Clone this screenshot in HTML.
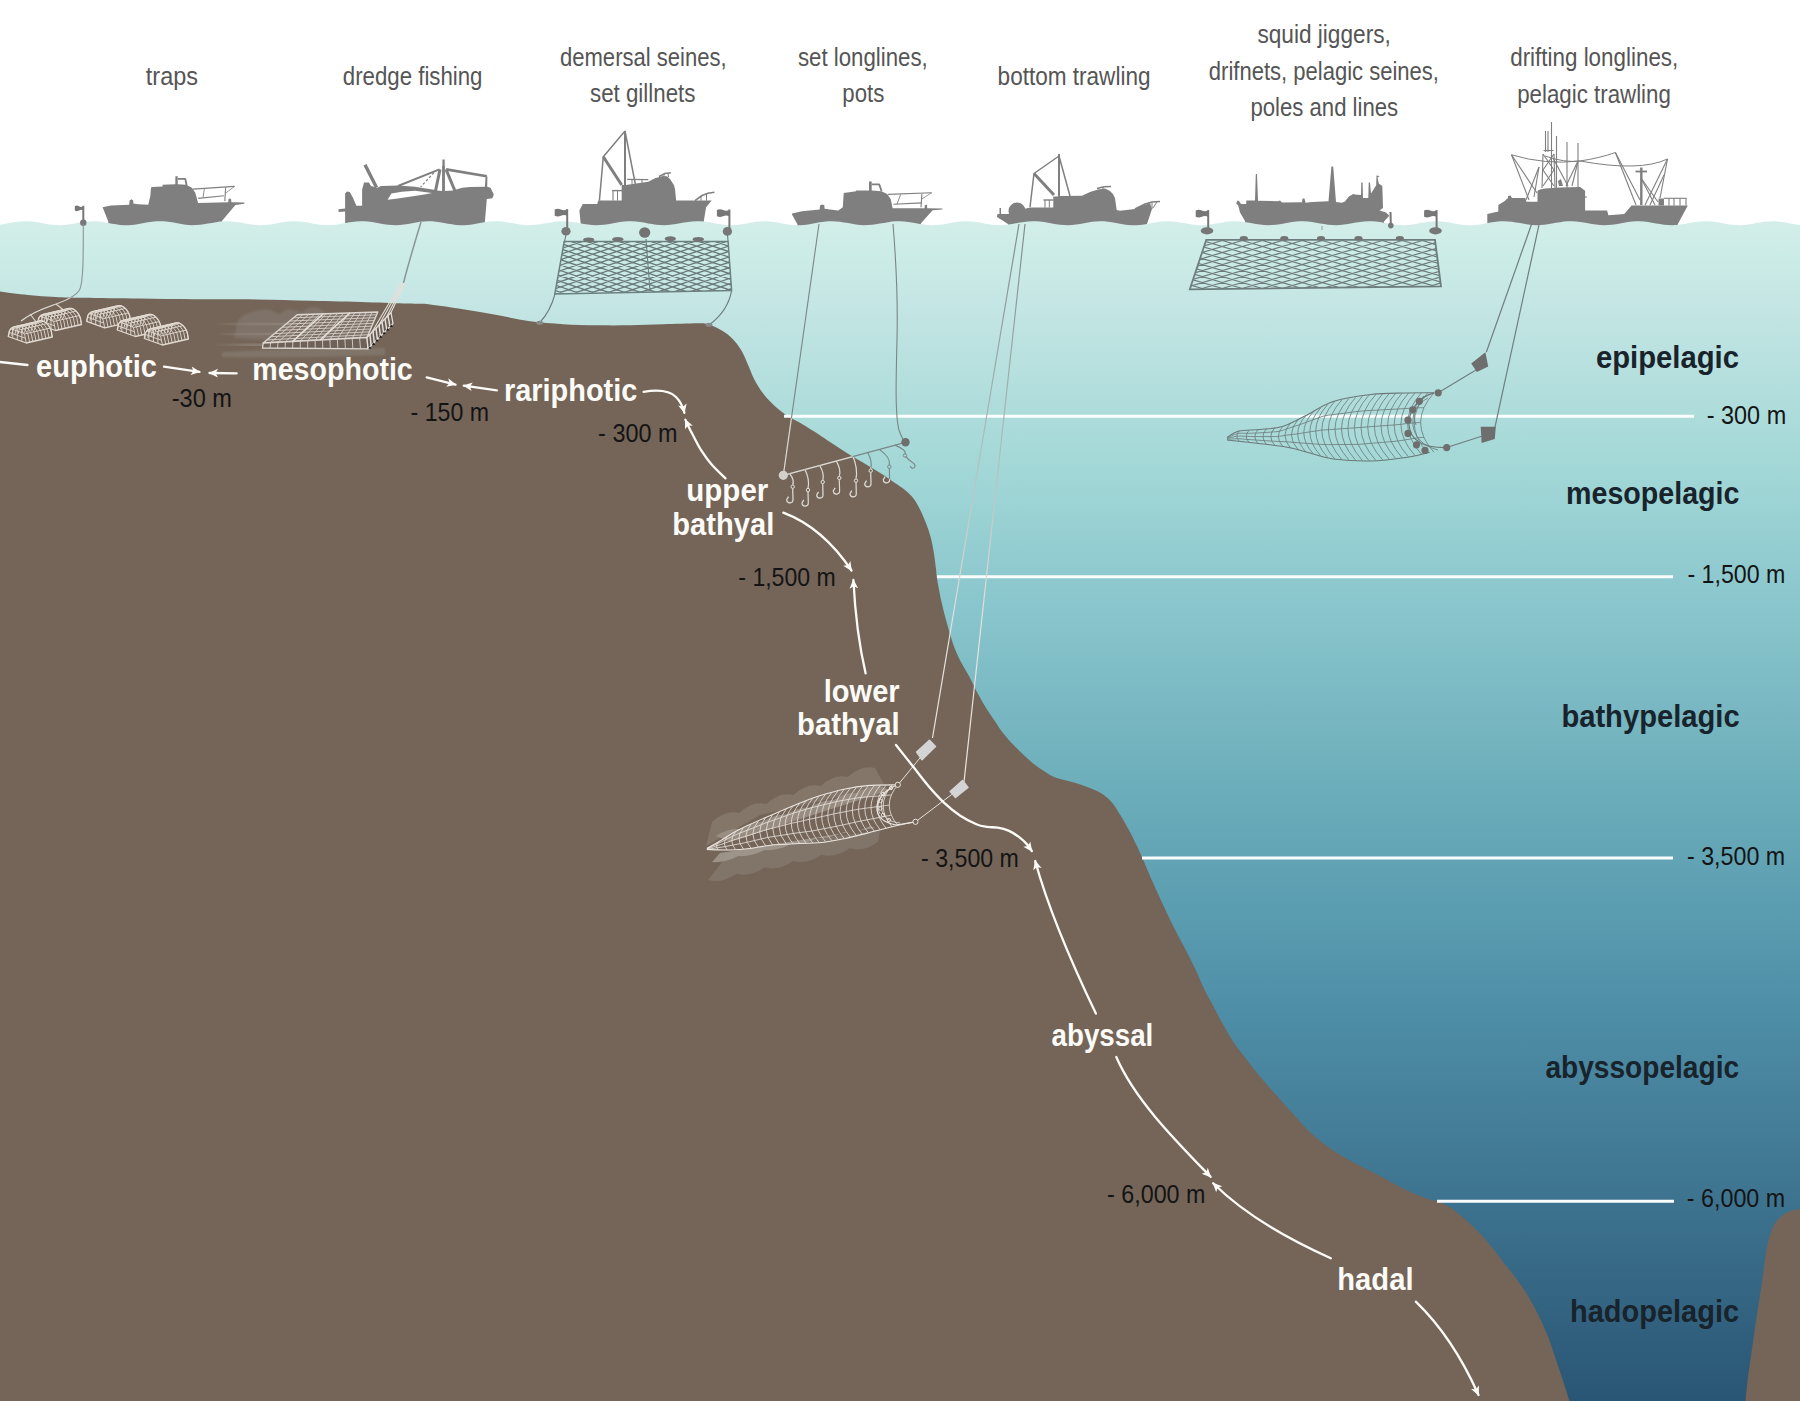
<!DOCTYPE html>
<html><head><meta charset="utf-8"><title>Fishing gear and ocean depth zones</title>
<style>
html,body{margin:0;padding:0;background:#fff;width:1800px;height:1401px;overflow:hidden}
svg{display:block}
text{font-family:"Liberation Sans",sans-serif}
.tl{font-size:25px;fill:#555555}
.wl{font-size:32px;font-weight:bold;fill:#fdfbf7}
.zl{font-size:32px;font-weight:bold;fill:#18232b}
.dl{font-size:26px;fill:#141414}
</style></head><body>
<svg width="1800" height="1401" viewBox="0 0 1800 1401">
<defs>
<linearGradient id="sea" gradientUnits="userSpaceOnUse" x1="0" y1="220" x2="0" y2="1401"><stop offset="0.0000" stop-color="#d4eee9"/><stop offset="0.0279" stop-color="#ccece7"/><stop offset="0.0677" stop-color="#c5e6e4"/><stop offset="0.2058" stop-color="#a3d8d7"/><stop offset="0.3243" stop-color="#8ac6cd"/><stop offset="0.4598" stop-color="#70b1bd"/><stop offset="0.5783" stop-color="#5c9eb1"/><stop offset="0.6630" stop-color="#4f8fa8"/><stop offset="0.7900" stop-color="#427a95"/><stop offset="0.8831" stop-color="#376a87"/><stop offset="1.0000" stop-color="#2a5675"/></linearGradient>
</defs>
<path d="M102.6,207.3 L111.0,205.6 L129.2,204.7 L129.6,200.5 L131.5,199.3 L133.2,200.5 L133.4,203.5 L138.0,204.3 L148.3,204.7 L150.3,196.0 L151.0,187.8 L151.9,186.9 L162.6,186.4 L162.6,184.7 L175.3,184.3 L175.4,176.2 L177.7,176.2 L177.7,184.3 L186.0,184.8 L191.9,187.8 L195.4,193.1 L198.1,202.9 L228.3,202.3 L228.6,198.8 L231.0,198.8 L231.4,202.3 L244.3,202.5 L244.3,203.8 L235.4,205.1 L222.1,220.7 L221.0,232.0 L108.0,232.0 L108.3,221.6 L103.0,208.2 Z" fill="#7f7f7f"/>
<path d="M177.7,178.9 L185.3,178.9 L186.7,186.0" fill="none" stroke="#7f7f7f" stroke-width="1.8" stroke-linejoin="round"/>
<path d="M192.8,189.1 L234.6,186.4" fill="none" stroke="#7f7f7f" stroke-width="1.1" stroke-linejoin="round"/>
<path d="M198.1,198.4 L223.9,195.8" fill="none" stroke="#7f7f7f" stroke-width="1.1" stroke-linejoin="round"/>
<path d="M204.3,189.1 L203.0,197.6" fill="none" stroke="#7f7f7f" stroke-width="0.9" stroke-linejoin="round"/>
<path d="M225.7,187.3 L224.8,201.1" fill="none" stroke="#7f7f7f" stroke-width="1.1" stroke-linejoin="round"/>
<path d="M225.7,193.0 L234.6,186.4" fill="none" stroke="#7f7f7f" stroke-width="0.8" stroke-linejoin="round"/>
<path d="M792.1,213.6 L801.9,211.3 L819.7,209.6 L820.0,205.5 L822.0,204.6 L824.3,205.2 L824.6,208.8 L830.0,209.6 L838.3,210.4 L842.8,207.3 L843.7,193.1 L856.1,191.3 L856.1,190.4 L869.0,190.4 L869.0,181.6 L871.7,181.6 L871.7,190.5 L881.4,191.3 L887.2,194.0 L890.8,199.3 L892.6,208.2 L924.6,208.2 L924.8,205.2 L927.0,204.8 L927.2,208.2 L942.3,208.6 L942.3,209.6 L932.6,210.2 L921.0,223.3 L920.0,232.0 L797.4,232.0 L797.4,224.2 L792.0,214.4 Z" fill="#7f7f7f"/>
<path d="M871.7,184.4 L879.2,184.4 L881.6,191.3" fill="none" stroke="#7f7f7f" stroke-width="1.8" stroke-linejoin="round"/>
<path d="M888.1,194.4 L931.7,192.7" fill="none" stroke="#7f7f7f" stroke-width="1.1" stroke-linejoin="round"/>
<path d="M893.4,204.2 L921.9,202.9" fill="none" stroke="#7f7f7f" stroke-width="1.1" stroke-linejoin="round"/>
<path d="M900.6,194.4 L897.0,204.2" fill="none" stroke="#7f7f7f" stroke-width="0.9" stroke-linejoin="round"/>
<path d="M921.9,194.0 L921.0,207.3" fill="none" stroke="#7f7f7f" stroke-width="1.1" stroke-linejoin="round"/>
<path d="M921.9,199.0 L931.7,192.7" fill="none" stroke="#7f7f7f" stroke-width="0.8" stroke-linejoin="round"/>
<path d="M338.5,209.2 L345.1,208.5 L345.1,193.4 L347.0,191.5 L349.8,192.0 L352.7,197.2 L356.4,205.7 L362.1,205.7 L362.1,189.7 L364.0,182.6 L369.0,182.6 L371.0,186.0 L377.5,187.8 L381.0,185.9 L398.0,185.4 L415.0,186.8 L433.9,189.7 L436.7,190.6 L442.4,191.0 L442.4,159.4 L444.7,159.4 L444.7,191.0 L452.8,190.6 L462.2,187.8 L470.0,187.0 L484.9,186.8 L485.6,176.4 L487.4,176.4 L487.2,186.8 L490.5,187.8 L493.8,194.4 L492.4,198.2 L486.8,199.1 L484.9,221.8 L484.9,232.0 L345.1,232.0 L345.1,211.4 L338.5,211.9 Z" fill="#7f7f7f"/>
<path d="M387.6,199.8 L391.4,193.6 L401.8,191.7 L415.0,190.8 L432.0,193.1 L424.4,194.6 L411.2,196.5 L396.1,198.8 Z" fill="#ffffff"/>
<path d="M365.0,164.8 L376.5,187.5" fill="none" stroke="#7f7f7f" stroke-width="3.4" stroke-linejoin="round"/>
<path d="M439.5,169.4 L398.0,186.0" fill="none" stroke="#7f7f7f" stroke-width="2.0" stroke-linejoin="round"/>
<path d="M446.1,169.4 L486.8,176.2" fill="none" stroke="#7f7f7f" stroke-width="2.6" stroke-linejoin="round"/>
<path d="M433.9,172.7 L420.7,186.8" fill="none" stroke="#7f7f7f" stroke-width="1.2" stroke-linejoin="round" stroke-dasharray="2.5,2"/>
<path d="M440.0,169.4 L435.5,191.0" fill="none" stroke="#7f7f7f" stroke-width="3.0" stroke-linejoin="round"/>
<path d="M446.0,169.4 L455.0,191.0" fill="none" stroke="#7f7f7f" stroke-width="3.0" stroke-linejoin="round"/>
<path d="M443.5,166.0 L443.5,191.0" fill="none" stroke="#7f7f7f" stroke-width="2.6" stroke-linejoin="round"/>
<path d="M582.8,203.9 L597.2,203.9 L598.3,200.6 L621.7,200.6 L621.7,185.0 L624.0,185.0 L624.0,131.0 L626.0,131.0 L626.0,185.0 L648.3,181.7 L655.0,178.3 L662.8,176.0 L667.0,176.3 L670.0,179.0 L673.9,185.0 L675.0,189.0 L676.1,200.6 L695.0,200.6 L708.3,200.6 L711.7,200.6 L706.1,207.2 L703.9,220.6 L703.0,232.0 L581.0,232.0 L580.6,222.8 L579.4,210.6 Z" fill="#7f7f7f"/>
<path d="M625.0,131.0 L603.3,156.7 L599.4,200.6" fill="none" stroke="#7f7f7f" stroke-width="1.5" stroke-linejoin="round"/>
<path d="M603.3,156.7 L621.7,185.0" fill="none" stroke="#7f7f7f" stroke-width="3.0" stroke-linejoin="round"/>
<path d="M625.0,131.0 L635.5,185.0" fill="none" stroke="#7f7f7f" stroke-width="1.5" stroke-linejoin="round"/>
<path d="M627.2,179.4 L648.3,179.6" fill="none" stroke="#7f7f7f" stroke-width="1.3" stroke-linejoin="round"/>
<path d="M632.0,179.4 L632.0,185.0" fill="none" stroke="#7f7f7f" stroke-width="1.0" stroke-linejoin="round"/>
<path d="M642.0,179.5 L642.0,183.0" fill="none" stroke="#7f7f7f" stroke-width="1.0" stroke-linejoin="round"/>
<path d="M612.0,190.6 L622.0,190.6" fill="none" stroke="#7f7f7f" stroke-width="1.4" stroke-linejoin="round"/>
<path d="M613.0,190.6 L613.0,200.6" fill="none" stroke="#7f7f7f" stroke-width="1.1" stroke-linejoin="round"/>
<path d="M617.5,190.6 L617.5,200.6" fill="none" stroke="#7f7f7f" stroke-width="1.0" stroke-linejoin="round"/>
<path d="M659.0,176.5 L665.0,173.5 L670.8,172.8" fill="none" stroke="#7f7f7f" stroke-width="1.5" stroke-linejoin="round"/>
<path d="M664.0,174.0 L664.0,176.5" fill="none" stroke="#7f7f7f" stroke-width="1.0" stroke-linejoin="round"/>
<path d="M668.0,173.0 L668.5,177.0" fill="none" stroke="#7f7f7f" stroke-width="1.0" stroke-linejoin="round"/>
<path d="M695.0,200.6 L702.0,195.5 L708.0,193.2 L714.4,192.2" fill="none" stroke="#7f7f7f" stroke-width="1.6" stroke-linejoin="round"/>
<path d="M701.0,196.5 L701.0,200.6" fill="none" stroke="#7f7f7f" stroke-width="1.0" stroke-linejoin="round"/>
<path d="M706.5,194.0 L706.5,200.6" fill="none" stroke="#7f7f7f" stroke-width="1.0" stroke-linejoin="round"/>
<path d="M997.0,216.0 L997.5,214.0 L999.5,214.0 L999.5,208.0 L1001.0,208.0 L1001.0,214.0 L1008.0,214.0 L1026.0,208.5 L1030.0,207.5 L1053.3,207.5 L1053.3,196.5 L1058.0,196.5 L1058.0,154.0 L1060.0,154.0 L1060.0,196.0 L1082.0,195.8 L1090.0,192.0 L1098.0,189.5 L1105.0,188.5 L1110.0,191.0 L1113.0,194.0 L1115.0,198.3 L1116.7,210.0 L1120.0,210.8 L1135.0,209.0 L1143.0,205.5 L1150.0,203.0 L1152.0,209.0 L1147.0,224.0 L1147.0,232.0 L1008.0,232.0 L1008.0,224.0 L997.0,217.0 Z" fill="#7f7f7f"/>
<circle cx="1017" cy="211" r="8.5" fill="#7f7f7f"/>
<path d="M1059.0,156.0 L1034.0,173.5 L1030.0,207.0" fill="none" stroke="#7f7f7f" stroke-width="1.5" stroke-linejoin="round"/>
<path d="M1034.0,173.5 L1054.0,195.0" fill="none" stroke="#7f7f7f" stroke-width="3.0" stroke-linejoin="round"/>
<path d="M1059.0,156.0 L1070.0,196.0" fill="none" stroke="#7f7f7f" stroke-width="1.5" stroke-linejoin="round"/>
<path d="M1097.0,188.5 L1104.0,186.8 L1111.0,186.5" fill="none" stroke="#7f7f7f" stroke-width="1.5" stroke-linejoin="round"/>
<path d="M1103.0,187.0 L1103.0,190.0" fill="none" stroke="#7f7f7f" stroke-width="1.0" stroke-linejoin="round"/>
<path d="M1135.0,209.0 L1145.0,204.0 L1152.0,202.0 L1160.0,201.5" fill="none" stroke="#7f7f7f" stroke-width="1.6" stroke-linejoin="round"/>
<path d="M1152.0,202.3 L1152.0,209.0" fill="none" stroke="#7f7f7f" stroke-width="1.0" stroke-linejoin="round"/>
<path d="M1157.0,201.8 L1153.0,208.0" fill="none" stroke="#7f7f7f" stroke-width="1.0" stroke-linejoin="round"/>
<path d="M1043.5,200.0 L1053.5,200.0" fill="none" stroke="#7f7f7f" stroke-width="1.4" stroke-linejoin="round"/>
<path d="M1045.0,200.0 L1045.0,207.5" fill="none" stroke="#7f7f7f" stroke-width="1.1" stroke-linejoin="round"/>
<path d="M1049.3,200.0 L1049.3,207.5" fill="none" stroke="#7f7f7f" stroke-width="1.0" stroke-linejoin="round"/>
<path d="M1236.2,203.2 L1238.3,205.8 L1240.0,212.5 L1245.0,221.0 L1245.0,232.0 L1384.0,232.0 L1384.0,221.4 L1389.3,215.7 L1386.0,212.5 L1379.5,210.5 L1383.0,208.0 L1383.0,207.0 L1382.3,186.0 L1378.8,183.5 L1377.5,177.5 L1379.5,176.5 L1377.5,175.5 L1376.5,175.5 L1376.2,185.3 L1371.0,193.5 L1370.0,182.4 L1368.7,182.4 L1368.3,198.0 L1363.0,198.0 L1362.6,182.4 L1361.3,182.4 L1361.0,195.0 L1355.0,194.5 L1353.2,194.0 L1349.0,196.5 L1347.4,198.3 L1345.0,201.5 L1341.7,202.7 L1336.0,202.0 L1333.2,166.6 L1331.4,166.6 L1328.5,201.2 L1312.0,202.0 L1305.6,202.7 L1304.5,198.5 L1302.5,198.5 L1302.0,202.2 L1282.0,202.4 L1280.0,200.5 L1278.0,201.2 L1258.0,200.8 L1257.0,174.0 L1255.8,174.0 L1255.0,200.5 L1246.3,200.5 L1246.2,204.0 L1241.0,204.0 L1239.0,201.0 L1237.5,200.5 Z" fill="#7f7f7f"/>
<path d="M1487.3,214.0 L1487.3,232.0 L1676.0,232.0 L1678.0,223.8 L1687.8,205.5 L1631.6,205.5 L1624.3,214.0 L1608.4,215.2 L1607.1,210.4 L1585.1,210.4 L1585.1,190.8 L1580.2,187.1 L1560.0,187.5 L1545.0,188.5 L1540.0,189.6 L1537.5,190.8 L1537.5,201.8 L1526.5,201.8 L1525.2,198.1 L1512.0,198.1 L1510.5,195.5 L1508.0,196.0 L1508.0,198.1 L1504.4,201.2 L1498.3,204.9 L1498.3,211.6 Z" fill="#7f7f7f"/>
<path d="M1658.5,198.5 L1664.0,198.5 L1664.0,205.5 L1658.5,205.5 Z" fill="#7f7f7f"/>
<path d="M1664.0,198.3 L1686.6,198.3" fill="none" stroke="#7f7f7f" stroke-width="1.1" stroke-linejoin="round"/>
<path d="M1669.0,198.3 L1669.0,205.5" fill="none" stroke="#7f7f7f" stroke-width="1.1" stroke-linejoin="round"/>
<path d="M1674.0,198.3 L1674.0,205.5" fill="none" stroke="#7f7f7f" stroke-width="1.1" stroke-linejoin="round"/>
<path d="M1680.0,198.3 L1680.0,205.5" fill="none" stroke="#7f7f7f" stroke-width="1.1" stroke-linejoin="round"/>
<path d="M1686.0,198.3 L1686.0,205.5" fill="none" stroke="#7f7f7f" stroke-width="1.1" stroke-linejoin="round"/>
<path d="M1551.5,122.0 L1551.5,188.0" fill="none" stroke="#7f7f7f" stroke-width="1.1" stroke-linejoin="round"/>
<path d="M1545.5,131.0 L1545.5,152.0" fill="none" stroke="#7f7f7f" stroke-width="1.1" stroke-linejoin="round"/>
<path d="M1548.0,131.0 L1548.0,152.0" fill="none" stroke="#7f7f7f" stroke-width="1.1" stroke-linejoin="round"/>
<path d="M1556.5,136.0 L1556.5,190.0" fill="none" stroke="#7f7f7f" stroke-width="1.1" stroke-linejoin="round"/>
<path d="M1567.0,142.0 L1567.0,188.0" fill="none" stroke="#7f7f7f" stroke-width="1.1" stroke-linejoin="round"/>
<path d="M1578.0,143.0 L1578.0,188.0" fill="none" stroke="#7f7f7f" stroke-width="1.1" stroke-linejoin="round"/>
<path d="M1543.5,150.5 L1553.5,150.5" fill="none" stroke="#7f7f7f" stroke-width="1.1" stroke-linejoin="round"/>
<path d="M1543.0,154.0 L1542.0,188.0" fill="none" stroke="#7f7f7f" stroke-width="1.1" stroke-linejoin="round"/>
<path d="M1554.0,154.0 L1555.0,188.0" fill="none" stroke="#7f7f7f" stroke-width="1.1" stroke-linejoin="round"/>
<path d="M1543.0,154.0 L1554.0,170.0" fill="none" stroke="#7f7f7f" stroke-width="1.1" stroke-linejoin="round"/>
<path d="M1554.0,154.0 L1543.0,170.0" fill="none" stroke="#7f7f7f" stroke-width="1.1" stroke-linejoin="round"/>
<path d="M1543.0,170.0 L1554.0,186.0" fill="none" stroke="#7f7f7f" stroke-width="1.1" stroke-linejoin="round"/>
<path d="M1554.0,170.0 L1543.0,186.0" fill="none" stroke="#7f7f7f" stroke-width="1.1" stroke-linejoin="round"/>
<path d="M1511.5,154.8 L1537.0,193.0" fill="none" stroke="#7f7f7f" stroke-width="1.1" stroke-linejoin="round"/>
<path d="M1511.5,154.8 L1529.0,200.0" fill="none" stroke="#7f7f7f" stroke-width="1.1" stroke-linejoin="round"/>
<path d="M1539.0,167.0 L1526.0,200.0" fill="none" stroke="#7f7f7f" stroke-width="1.1" stroke-linejoin="round"/>
<path d="M1539.0,167.0 L1534.0,197.0" fill="none" stroke="#7f7f7f" stroke-width="1.1" stroke-linejoin="round"/>
<path d="M1553.0,158.0 L1568.0,186.0" fill="none" stroke="#7f7f7f" stroke-width="1.1" stroke-linejoin="round"/>
<path d="M1578.0,161.0 L1566.0,186.0" fill="none" stroke="#7f7f7f" stroke-width="1.1" stroke-linejoin="round"/>
<path d="M1578.0,161.0 L1572.0,186.0" fill="none" stroke="#7f7f7f" stroke-width="1.1" stroke-linejoin="round"/>
<path d="M1615.4,152.5 L1636.0,205.0" fill="none" stroke="#7f7f7f" stroke-width="1.1" stroke-linejoin="round"/>
<path d="M1615.4,152.5 L1640.0,200.0" fill="none" stroke="#7f7f7f" stroke-width="1.1" stroke-linejoin="round"/>
<path d="M1667.5,159.0 L1660.0,198.0" fill="none" stroke="#7f7f7f" stroke-width="1.1" stroke-linejoin="round"/>
<path d="M1667.5,159.0 L1645.0,205.0" fill="none" stroke="#7f7f7f" stroke-width="1.1" stroke-linejoin="round"/>
<path d="M1664.0,175.0 L1650.0,205.0" fill="none" stroke="#7f7f7f" stroke-width="1.1" stroke-linejoin="round"/>
<path d="M1641.0,178.0 L1655.0,205.0" fill="none" stroke="#7f7f7f" stroke-width="1.1" stroke-linejoin="round"/>
<path d="M1641.0,178.0 L1658.0,202.0" fill="none" stroke="#7f7f7f" stroke-width="1.1" stroke-linejoin="round"/>
<path d="M1641.3,167.5 L1641.3,205.0" fill="none" stroke="#7f7f7f" stroke-width="2.4" stroke-linejoin="round"/>
<path d="M1635.5,171.5 L1647.0,171.5" fill="none" stroke="#7f7f7f" stroke-width="1.8" stroke-linejoin="round"/>
<path d="M1581.0,197.0 L1587.0,197.0" fill="none" stroke="#7f7f7f" stroke-width="1.0" stroke-linejoin="round"/>
<path d="M1582.0,197.0 L1582.0,204.0" fill="none" stroke="#7f7f7f" stroke-width="0.9" stroke-linejoin="round"/>
<path d="M1584.5,197.0 L1584.5,204.0" fill="none" stroke="#7f7f7f" stroke-width="0.9" stroke-linejoin="round"/>
<path d="M1511.5,154.8 Q1545,165 1580,161 Q1600,158 1615.4,152.5 M1545,156 Q1565,163 1580,161 M1580,161 Q1640,172 1667.5,159" fill="none" stroke="#7f7f7f" stroke-width="1"/>
<path d="M1558.0,181.0 L1561.0,179.0 L1563.0,186.0 L1559.0,186.0 Z" fill="#7f7f7f"/>
<path d="M0.0,224.7 L4.0,224.1 L8.0,223.3 L12.0,222.6 L16.0,221.9 L20.0,221.5 L24.0,221.2 L28.0,221.3 L32.0,221.6 L36.0,222.1 L40.0,222.8 L44.0,223.5 L48.0,224.2 L52.0,224.8 L56.0,225.1 L60.0,225.2 L64.0,225.0 L68.0,224.6 L72.0,223.9 L76.0,223.2 L80.0,222.5 L84.0,221.8 L88.0,221.4 L92.0,221.2 L96.0,221.3 L100.0,221.6 L104.0,222.2 L108.0,222.9 L112.0,223.7 L116.0,224.3 L120.0,224.9 L124.0,225.2 L128.0,225.2 L132.0,224.9 L136.0,224.4 L140.0,223.8 L144.0,223.0 L148.0,222.3 L152.0,221.7 L156.0,221.3 L160.0,221.2 L164.0,221.3 L168.0,221.7 L172.0,222.3 L176.0,223.1 L180.0,223.8 L184.0,224.5 L188.0,224.9 L192.0,225.2 L196.0,225.1 L200.0,224.8 L204.0,224.3 L208.0,223.6 L212.0,222.9 L216.0,222.2 L220.0,221.6 L224.0,221.3 L228.0,221.2 L232.0,221.4 L236.0,221.9 L240.0,222.5 L244.0,223.2 L248.0,223.9 L252.0,224.6 L256.0,225.0 L260.0,225.2 L264.0,225.1 L268.0,224.8 L272.0,224.2 L276.0,223.5 L280.0,222.7 L284.0,222.1 L288.0,221.5 L292.0,221.2 L296.0,221.2 L300.0,221.5 L304.0,222.0 L308.0,222.6 L312.0,223.4 L316.0,224.1 L320.0,224.7 L324.0,225.1 L328.0,225.2 L332.0,225.1 L336.0,224.7 L340.0,224.0 L344.0,223.3 L348.0,222.6 L352.0,221.9 L356.0,221.5 L360.0,221.2 L364.0,221.3 L368.0,221.6 L372.0,222.1 L376.0,222.8 L380.0,223.5 L384.0,224.2 L388.0,224.8 L392.0,225.1 L396.0,225.2 L400.0,225.0 L404.0,224.5 L408.0,223.9 L412.0,223.2 L416.0,222.4 L420.0,221.8 L424.0,221.4 L428.0,221.2 L432.0,221.3 L436.0,221.7 L440.0,222.2 L444.0,222.9 L448.0,223.7 L452.0,224.3 L456.0,224.9 L460.0,225.2 L464.0,225.2 L468.0,224.9 L472.0,224.4 L476.0,223.8 L480.0,223.0 L484.0,222.3 L488.0,221.7 L492.0,221.3 L496.0,221.2 L500.0,221.3 L504.0,221.8 L508.0,222.4 L512.0,223.1 L516.0,223.8 L520.0,224.5 L524.0,224.9 L528.0,225.2 L532.0,225.1 L536.0,224.8 L540.0,224.3 L544.0,223.6 L548.0,222.9 L552.0,222.2 L556.0,221.6 L560.0,221.3 L564.0,221.2 L568.0,221.4 L572.0,221.9 L576.0,222.5 L580.0,223.2 L584.0,224.0 L588.0,224.6 L592.0,225.0 L596.0,225.2 L600.0,225.1 L604.0,224.7 L608.0,224.2 L612.0,223.5 L616.0,222.7 L620.0,222.1 L624.0,221.5 L628.0,221.2 L632.0,221.2 L636.0,221.5 L640.0,222.0 L644.0,222.6 L648.0,223.4 L652.0,224.1 L656.0,224.7 L660.0,225.1 L664.0,225.2 L668.0,225.1 L672.0,224.6 L676.0,224.0 L680.0,223.3 L684.0,222.6 L688.0,221.9 L692.0,221.5 L696.0,221.2 L700.0,221.3 L704.0,221.6 L708.0,222.1 L712.0,222.8 L716.0,223.5 L720.0,224.2 L724.0,224.8 L728.0,225.1 L732.0,225.2 L736.0,225.0 L740.0,224.5 L744.0,223.9 L748.0,223.2 L752.0,222.4 L756.0,221.8 L760.0,221.4 L764.0,221.2 L768.0,221.3 L772.0,221.7 L776.0,222.2 L780.0,222.9 L784.0,223.7 L788.0,224.4 L792.0,224.9 L796.0,225.2 L800.0,225.2 L804.0,224.9 L808.0,224.4 L812.0,223.8 L816.0,223.0 L820.0,222.3 L824.0,221.7 L828.0,221.3 L832.0,221.2 L836.0,221.4 L840.0,221.8 L844.0,222.4 L848.0,223.1 L852.0,223.8 L856.0,224.5 L860.0,224.9 L864.0,225.2 L868.0,225.1 L872.0,224.8 L876.0,224.3 L880.0,223.6 L884.0,222.9 L888.0,222.2 L892.0,221.6 L896.0,221.3 L900.0,221.2 L904.0,221.4 L908.0,221.9 L912.0,222.5 L916.0,223.2 L920.0,224.0 L924.0,224.6 L928.0,225.0 L932.0,225.2 L936.0,225.1 L940.0,224.7 L944.0,224.2 L948.0,223.5 L952.0,222.7 L956.0,222.0 L960.0,221.5 L964.0,221.2 L968.0,221.2 L972.0,221.5 L976.0,222.0 L980.0,222.6 L984.0,223.4 L988.0,224.1 L992.0,224.7 L996.0,225.1 L1000.0,225.2 L1004.0,225.0 L1008.0,224.6 L1012.0,224.0 L1016.0,223.3 L1020.0,222.6 L1024.0,221.9 L1028.0,221.4 L1032.0,221.2 L1036.0,221.3 L1040.0,221.6 L1044.0,222.1 L1048.0,222.8 L1052.0,223.5 L1056.0,224.2 L1060.0,224.8 L1064.0,225.1 L1068.0,225.2 L1072.0,225.0 L1076.0,224.5 L1080.0,223.9 L1084.0,223.2 L1088.0,222.4 L1092.0,221.8 L1096.0,221.4 L1100.0,221.2 L1104.0,221.3 L1108.0,221.7 L1112.0,222.2 L1116.0,222.9 L1120.0,223.7 L1124.0,224.4 L1128.0,224.9 L1132.0,225.2 L1136.0,225.2 L1140.0,224.9 L1144.0,224.4 L1148.0,223.7 L1152.0,223.0 L1156.0,222.3 L1160.0,221.7 L1164.0,221.3 L1168.0,221.2 L1172.0,221.4 L1176.0,221.8 L1180.0,222.4 L1184.0,223.1 L1188.0,223.8 L1192.0,224.5 L1196.0,225.0 L1200.0,225.2 L1204.0,225.1 L1208.0,224.8 L1212.0,224.3 L1216.0,223.6 L1220.0,222.9 L1224.0,222.2 L1228.0,221.6 L1232.0,221.3 L1236.0,221.2 L1240.0,221.4 L1244.0,221.9 L1248.0,222.5 L1252.0,223.2 L1256.0,224.0 L1260.0,224.6 L1264.0,225.0 L1268.0,225.2 L1272.0,225.1 L1276.0,224.7 L1280.0,224.2 L1284.0,223.5 L1288.0,222.7 L1292.0,222.0 L1296.0,221.5 L1300.0,221.2 L1304.0,221.2 L1308.0,221.5 L1312.0,222.0 L1316.0,222.7 L1320.0,223.4 L1324.0,224.1 L1328.0,224.7 L1332.0,225.1 L1336.0,225.2 L1340.0,225.0 L1344.0,224.6 L1348.0,224.0 L1352.0,223.3 L1356.0,222.6 L1360.0,221.9 L1364.0,221.4 L1368.0,221.2 L1372.0,221.3 L1376.0,221.6 L1380.0,222.1 L1384.0,222.8 L1388.0,223.5 L1392.0,224.2 L1396.0,224.8 L1400.0,225.1 L1404.0,225.2 L1408.0,225.0 L1412.0,224.5 L1416.0,223.9 L1420.0,223.1 L1424.0,222.4 L1428.0,221.8 L1432.0,221.4 L1436.0,221.2 L1440.0,221.3 L1444.0,221.7 L1448.0,222.2 L1452.0,223.0 L1456.0,223.7 L1460.0,224.4 L1464.0,224.9 L1468.0,225.2 L1472.0,225.2 L1476.0,224.9 L1480.0,224.4 L1484.0,223.7 L1488.0,223.0 L1492.0,222.3 L1496.0,221.7 L1500.0,221.3 L1504.0,221.2 L1508.0,221.4 L1512.0,221.8 L1516.0,222.4 L1520.0,223.1 L1524.0,223.8 L1528.0,224.5 L1532.0,225.0 L1536.0,225.2 L1540.0,225.1 L1544.0,224.8 L1548.0,224.3 L1552.0,223.6 L1556.0,222.8 L1560.0,222.2 L1564.0,221.6 L1568.0,221.3 L1572.0,221.2 L1576.0,221.4 L1580.0,221.9 L1584.0,222.5 L1588.0,223.3 L1592.0,224.0 L1596.0,224.6 L1600.0,225.0 L1604.0,225.2 L1608.0,225.1 L1612.0,224.7 L1616.0,224.2 L1620.0,223.4 L1624.0,222.7 L1628.0,222.0 L1632.0,221.5 L1636.0,221.2 L1640.0,221.2 L1644.0,221.5 L1648.0,222.0 L1652.0,222.7 L1656.0,223.4 L1660.0,224.1 L1664.0,224.7 L1668.0,225.1 L1672.0,225.2 L1676.0,225.0 L1680.0,224.6 L1684.0,224.0 L1688.0,223.3 L1692.0,222.6 L1696.0,221.9 L1700.0,221.4 L1704.0,221.2 L1708.0,221.3 L1712.0,221.6 L1716.0,222.1 L1720.0,222.8 L1724.0,223.6 L1728.0,224.3 L1732.0,224.8 L1736.0,225.1 L1740.0,225.2 L1744.0,225.0 L1748.0,224.5 L1752.0,223.9 L1756.0,223.1 L1760.0,222.4 L1764.0,221.8 L1768.0,221.4 L1772.0,221.2 L1776.0,221.3 L1780.0,221.7 L1784.0,222.3 L1788.0,223.0 L1792.0,223.7 L1796.0,224.4 L1800.0,224.9 L1800,1401 L0,1401 Z" fill="url(#sea)"/>
<path d="M0.0,291.5 C4.7,292.1 18.7,294.1 28.0,295.0 C37.3,295.9 46.8,296.5 56.0,297.0 C65.2,297.5 69.2,297.6 83.0,297.8 C96.8,298.1 120.5,298.3 139.0,298.5 C157.5,298.7 174.5,299.1 194.0,299.2 C213.5,299.3 236.5,299.1 256.0,299.4 C275.5,299.7 292.5,300.3 311.0,300.8 C329.5,301.3 350.8,301.7 367.0,302.2 C383.2,302.7 397.5,303.2 408.0,303.6 C418.5,304.0 420.8,303.5 430.0,304.4 C439.2,305.3 451.8,307.4 463.0,309.2 C474.2,311.0 485.8,313.0 497.0,315.0 C508.2,317.0 519.0,319.8 530.0,321.3 C541.0,322.8 551.8,323.5 563.0,324.2 C574.2,324.9 585.8,325.1 597.0,325.3 C608.2,325.5 619.0,325.5 630.0,325.3 C641.0,325.1 651.8,324.5 663.0,324.2 C674.2,323.9 689.8,323.4 697.0,323.3 C704.2,323.2 702.7,323.1 706.0,323.8 C709.3,324.6 713.2,326.1 716.8,327.8 C720.4,329.6 724.3,331.8 727.5,334.3 C730.7,336.8 733.5,339.8 736.0,342.8 C738.5,345.8 740.5,348.9 742.5,352.5 C744.5,356.1 745.8,359.8 747.8,364.2 C749.8,368.6 751.7,374.4 754.2,379.2 C756.7,384.0 759.9,389.2 762.8,393.1 C765.7,397.0 768.4,399.8 771.4,402.8 C774.4,405.8 777.8,408.8 781.0,411.3 C784.2,413.8 787.0,415.7 790.6,417.8 C794.2,419.9 797.8,421.5 802.4,424.2 C807.0,426.9 813.9,431.2 818.5,434.2 C823.1,437.2 826.3,439.5 830.0,442.0 C833.7,444.5 837.1,446.7 840.7,449.0 C844.3,451.3 847.8,453.5 851.4,455.7 C855.0,457.9 858.5,460.0 862.1,462.1 C865.7,464.2 869.2,466.4 872.8,468.5 C876.4,470.6 879.9,472.7 883.5,475.0 C887.1,477.3 890.6,480.0 894.2,482.5 C897.8,485.0 901.8,487.3 905.0,490.0 C908.2,492.7 910.8,494.9 913.5,498.5 C916.2,502.1 918.9,507.1 921.0,511.4 C923.1,515.7 924.8,519.9 926.4,524.2 C928.0,528.5 929.4,532.3 930.6,537.1 C931.9,541.9 933.0,547.8 933.9,553.1 C934.8,558.5 935.4,564.7 936.0,569.2 C936.6,573.7 936.4,574.6 937.3,580.0 C938.2,585.4 939.8,594.3 941.4,601.4 C943.0,608.5 944.8,615.7 946.8,622.8 C948.8,629.9 950.9,637.8 953.2,644.2 C955.5,650.6 958.0,656.0 960.7,661.4 C963.4,666.8 966.4,671.0 969.3,676.4 C972.1,681.8 974.9,688.1 977.8,693.5 C980.6,698.9 983.5,703.9 986.4,708.5 C989.3,713.1 992.6,717.7 995.0,721.3 C997.4,724.9 998.0,726.4 1000.7,730.0 C1003.4,733.6 1007.8,738.9 1011.4,742.8 C1015.0,746.7 1018.5,750.1 1022.1,753.5 C1025.7,756.9 1029.2,760.3 1032.8,763.2 C1036.4,766.1 1039.9,768.4 1043.5,770.7 C1047.1,773.0 1050.6,775.5 1054.2,777.1 C1057.8,778.7 1061.4,779.3 1065.0,780.3 C1068.6,781.3 1072.1,781.9 1075.7,783.0 C1079.3,784.1 1082.8,785.4 1086.4,786.7 C1090.0,788.0 1093.9,789.4 1097.1,791.0 C1100.3,792.6 1102.9,794.2 1105.6,796.4 C1108.3,798.5 1110.6,800.7 1113.1,803.9 C1115.6,807.1 1117.9,811.1 1120.6,815.6 C1123.3,820.1 1126.5,825.6 1129.2,830.6 C1131.9,835.6 1134.5,841.0 1136.7,845.6 C1138.9,850.2 1139.9,852.4 1142.5,858.2 C1145.1,864.1 1148.7,873.0 1152.1,880.7 C1155.5,888.4 1159.2,896.5 1162.8,904.2 C1166.4,911.9 1169.9,919.6 1173.5,926.7 C1177.1,933.9 1180.6,940.1 1184.2,947.1 C1187.8,954.1 1191.6,961.4 1195.0,968.5 C1198.4,975.6 1202.1,984.8 1204.6,990.0 C1207.1,995.2 1207.2,994.8 1210.0,1000.0 C1212.8,1005.2 1217.7,1014.7 1221.4,1021.4 C1225.1,1028.1 1229.0,1035.1 1232.1,1040.0 C1235.2,1044.9 1235.0,1044.5 1240.0,1051.0 C1245.0,1057.5 1254.3,1069.8 1262.0,1079.0 C1269.7,1088.2 1277.8,1097.0 1286.0,1106.0 C1294.2,1115.0 1303.0,1125.5 1311.0,1133.0 C1319.0,1140.5 1326.3,1145.8 1334.0,1151.0 C1341.7,1156.2 1349.3,1160.1 1357.0,1164.3 C1364.7,1168.5 1372.5,1172.0 1380.0,1176.0 C1387.5,1180.0 1394.7,1184.4 1402.0,1188.0 C1409.3,1191.6 1417.7,1195.1 1424.0,1197.5 C1430.3,1199.9 1435.5,1200.8 1440.0,1202.5 C1444.5,1204.2 1447.1,1205.5 1450.7,1207.8 C1454.3,1210.1 1457.8,1213.1 1461.4,1216.1 C1465.0,1219.1 1468.5,1222.3 1472.1,1225.7 C1475.7,1229.1 1479.2,1232.5 1482.8,1236.4 C1486.4,1240.3 1489.9,1244.8 1493.5,1249.3 C1497.1,1253.8 1500.6,1258.6 1504.2,1263.2 C1507.8,1267.8 1511.4,1272.3 1515.0,1277.1 C1518.6,1281.9 1522.5,1287.1 1525.7,1292.1 C1528.9,1297.1 1531.5,1302.1 1534.2,1307.1 C1536.9,1312.1 1539.6,1317.5 1541.7,1322.0 C1543.8,1326.5 1545.3,1329.9 1547.0,1334.0 C1548.7,1338.1 1550.0,1341.8 1551.7,1346.7 C1553.4,1351.6 1555.4,1357.8 1557.2,1363.3 C1559.0,1368.8 1560.8,1373.7 1562.8,1380.0 C1564.8,1386.3 1568.4,1397.5 1569.5,1401.0 L0,1401 Z" fill="#746558"/>
<path d="M1800.0,1209.0 C1797.8,1209.6 1791.2,1210.2 1787.0,1212.5 C1782.8,1214.8 1778.1,1218.4 1775.0,1223.0 C1771.9,1227.6 1770.2,1234.0 1768.5,1240.0 C1766.8,1246.0 1766.1,1251.9 1765.0,1259.0 C1763.9,1266.1 1763.3,1273.3 1762.0,1282.5 C1760.7,1291.7 1758.6,1303.5 1757.0,1314.0 C1755.4,1324.5 1754.0,1335.1 1752.5,1345.6 C1751.0,1356.1 1749.2,1367.8 1748.0,1377.0 C1746.8,1386.2 1745.9,1397.0 1745.5,1401.0 L1800,1401 Z" fill="#746558"/>
<line x1="784" y1="416.2" x2="1694" y2="416.2" stroke="#fafdfd" stroke-width="3"/>
<line x1="937" y1="576.7" x2="1673" y2="576.7" stroke="#fafdfd" stroke-width="3"/>
<line x1="1142" y1="858" x2="1673" y2="858" stroke="#fafdfd" stroke-width="3"/>
<line x1="1437" y1="1201.3" x2="1674" y2="1201.3" stroke="#fafdfd" stroke-width="3"/>
<defs><marker id="ah" viewBox="-10 -5 11 10" refX="0" refY="0" markerWidth="11" markerHeight="10" markerUnits="userSpaceOnUse" orient="auto"><path d="M0.8,0 L-8.5,-4.3 L-6.2,0 L-8.5,4.3 Z" fill="#fdfbf7"/></marker></defs>
<defs><clipPath id="landclip"><path d="M0.0,291.5 C4.7,292.1 18.7,294.1 28.0,295.0 C37.3,295.9 46.8,296.5 56.0,297.0 C65.2,297.5 69.2,297.6 83.0,297.8 C96.8,298.1 120.5,298.3 139.0,298.5 C157.5,298.7 174.5,299.1 194.0,299.2 C213.5,299.3 236.5,299.1 256.0,299.4 C275.5,299.7 292.5,300.3 311.0,300.8 C329.5,301.3 350.8,301.7 367.0,302.2 C383.2,302.7 397.5,303.2 408.0,303.6 C418.5,304.0 420.8,303.5 430.0,304.4 C439.2,305.3 451.8,307.4 463.0,309.2 C474.2,311.0 485.8,313.0 497.0,315.0 C508.2,317.0 519.0,319.8 530.0,321.3 C541.0,322.8 551.8,323.5 563.0,324.2 C574.2,324.9 585.8,325.1 597.0,325.3 C608.2,325.5 619.0,325.5 630.0,325.3 C641.0,325.1 651.8,324.5 663.0,324.2 C674.2,323.9 689.8,323.4 697.0,323.3 C704.2,323.2 702.7,323.1 706.0,323.8 C709.3,324.6 713.2,326.1 716.8,327.8 C720.4,329.6 724.3,331.8 727.5,334.3 C730.7,336.8 733.5,339.8 736.0,342.8 C738.5,345.8 740.5,348.9 742.5,352.5 C744.5,356.1 745.8,359.8 747.8,364.2 C749.8,368.6 751.7,374.4 754.2,379.2 C756.7,384.0 759.9,389.2 762.8,393.1 C765.7,397.0 768.4,399.8 771.4,402.8 C774.4,405.8 777.8,408.8 781.0,411.3 C784.2,413.8 787.0,415.7 790.6,417.8 C794.2,419.9 797.8,421.5 802.4,424.2 C807.0,426.9 813.9,431.2 818.5,434.2 C823.1,437.2 826.3,439.5 830.0,442.0 C833.7,444.5 837.1,446.7 840.7,449.0 C844.3,451.3 847.8,453.5 851.4,455.7 C855.0,457.9 858.5,460.0 862.1,462.1 C865.7,464.2 869.2,466.4 872.8,468.5 C876.4,470.6 879.9,472.7 883.5,475.0 C887.1,477.3 890.6,480.0 894.2,482.5 C897.8,485.0 901.8,487.3 905.0,490.0 C908.2,492.7 910.8,494.9 913.5,498.5 C916.2,502.1 918.9,507.1 921.0,511.4 C923.1,515.7 924.8,519.9 926.4,524.2 C928.0,528.5 929.4,532.3 930.6,537.1 C931.9,541.9 933.0,547.8 933.9,553.1 C934.8,558.5 935.4,564.7 936.0,569.2 C936.6,573.7 936.4,574.6 937.3,580.0 C938.2,585.4 939.8,594.3 941.4,601.4 C943.0,608.5 944.8,615.7 946.8,622.8 C948.8,629.9 950.9,637.8 953.2,644.2 C955.5,650.6 958.0,656.0 960.7,661.4 C963.4,666.8 966.4,671.0 969.3,676.4 C972.1,681.8 974.9,688.1 977.8,693.5 C980.6,698.9 983.5,703.9 986.4,708.5 C989.3,713.1 992.6,717.7 995.0,721.3 C997.4,724.9 998.0,726.4 1000.7,730.0 C1003.4,733.6 1007.8,738.9 1011.4,742.8 C1015.0,746.7 1018.5,750.1 1022.1,753.5 C1025.7,756.9 1029.2,760.3 1032.8,763.2 C1036.4,766.1 1039.9,768.4 1043.5,770.7 C1047.1,773.0 1050.6,775.5 1054.2,777.1 C1057.8,778.7 1061.4,779.3 1065.0,780.3 C1068.6,781.3 1072.1,781.9 1075.7,783.0 C1079.3,784.1 1082.8,785.4 1086.4,786.7 C1090.0,788.0 1093.9,789.4 1097.1,791.0 C1100.3,792.6 1102.9,794.2 1105.6,796.4 C1108.3,798.5 1110.6,800.7 1113.1,803.9 C1115.6,807.1 1117.9,811.1 1120.6,815.6 C1123.3,820.1 1126.5,825.6 1129.2,830.6 C1131.9,835.6 1134.5,841.0 1136.7,845.6 C1138.9,850.2 1139.9,852.4 1142.5,858.2 C1145.1,864.1 1148.7,873.0 1152.1,880.7 C1155.5,888.4 1159.2,896.5 1162.8,904.2 C1166.4,911.9 1169.9,919.6 1173.5,926.7 C1177.1,933.9 1180.6,940.1 1184.2,947.1 C1187.8,954.1 1191.6,961.4 1195.0,968.5 C1198.4,975.6 1202.1,984.8 1204.6,990.0 C1207.1,995.2 1207.2,994.8 1210.0,1000.0 C1212.8,1005.2 1217.7,1014.7 1221.4,1021.4 C1225.1,1028.1 1229.0,1035.1 1232.1,1040.0 C1235.2,1044.9 1235.0,1044.5 1240.0,1051.0 C1245.0,1057.5 1254.3,1069.8 1262.0,1079.0 C1269.7,1088.2 1277.8,1097.0 1286.0,1106.0 C1294.2,1115.0 1303.0,1125.5 1311.0,1133.0 C1319.0,1140.5 1326.3,1145.8 1334.0,1151.0 C1341.7,1156.2 1349.3,1160.1 1357.0,1164.3 C1364.7,1168.5 1372.5,1172.0 1380.0,1176.0 C1387.5,1180.0 1394.7,1184.4 1402.0,1188.0 C1409.3,1191.6 1417.7,1195.1 1424.0,1197.5 C1430.3,1199.9 1435.5,1200.8 1440.0,1202.5 C1444.5,1204.2 1447.1,1205.5 1450.7,1207.8 C1454.3,1210.1 1457.8,1213.1 1461.4,1216.1 C1465.0,1219.1 1468.5,1222.3 1472.1,1225.7 C1475.7,1229.1 1479.2,1232.5 1482.8,1236.4 C1486.4,1240.3 1489.9,1244.8 1493.5,1249.3 C1497.1,1253.8 1500.6,1258.6 1504.2,1263.2 C1507.8,1267.8 1511.4,1272.3 1515.0,1277.1 C1518.6,1281.9 1522.5,1287.1 1525.7,1292.1 C1528.9,1297.1 1531.5,1302.1 1534.2,1307.1 C1536.9,1312.1 1539.6,1317.5 1541.7,1322.0 C1543.8,1326.5 1545.3,1329.9 1547.0,1334.0 C1548.7,1338.1 1550.0,1341.8 1551.7,1346.7 C1553.4,1351.6 1555.4,1357.8 1557.2,1363.3 C1559.0,1368.8 1560.8,1373.7 1562.8,1380.0 C1564.8,1386.3 1568.4,1397.5 1569.5,1401.0 L0,1401 Z"/></clipPath><linearGradient id="warp" gradientUnits="userSpaceOnUse" x1="0" y1="220" x2="0" y2="800"><stop offset="0" stop-color="#808a8a"/><stop offset="0.35" stop-color="#a9b6b6"/><stop offset="0.7" stop-color="#e6e2dc"/><stop offset="1" stop-color="#ece6e0"/></linearGradient></defs>
<path d="M74.8,206.3 q2.1,-1.5 4.2,0 t4.2,0 l0,4.2 q-2.1,-1.5 -4.2,0 t-4.2,0 Z" fill="#777777"/><line x1="83.3" y1="205.8" x2="83.3" y2="222.8" stroke="#777777" stroke-width="2"/><ellipse cx="83.3" cy="222.8" rx="3.2" ry="3.2" fill="#777777"/>
<path d="M83.3,224 C83.3,255 83.5,282 79.5,290 C75,297 63,301.5 52,305.5 C42,309 30,314 21,321" fill="none" stroke="#8a9494" stroke-width="1.1"/>
<g clip-path="url(#landclip)"><path d="M83.3,224 C83.3,255 83.5,282 79.5,290 C75,297 63,301.5 52,305.5 C42,309 30,314 21,321 M56,304 L66,312 M30,314 L37,323" fill="none" stroke="#e2dad1" stroke-width="1.1"/></g>
<path d="M86.7,321.3 L87.8,315.6 L89.0,313.8 L90.1,312.8 L91.2,312.1 L92.3,311.7 L118.3,305.7 L119.5,305.6 L120.6,305.7 L121.7,306.1 L122.8,306.6 L124.0,307.3 L125.1,308.2 L126.2,309.4 L127.3,310.8 L128.4,312.7 L129.6,315.3 L130.7,321.8 L104.7,327.8 Z" fill="#746558" stroke="#e2dad1" stroke-width="1.3" stroke-linejoin="round"/><path d="M86.7,321.3 L88.2,314.9 L89.7,313.1 L91.2,312.1 L92.7,311.7 L94.2,311.7 L95.7,312.1 L97.2,312.8 L98.7,313.8 L100.2,315.3 L101.7,317.4 L103.2,320.3 L104.7,327.8 M90.0,320.6 L91.5,314.2 L93.0,312.3 L94.5,311.3 L96.0,310.9 L97.5,310.9 L99.0,311.3 L100.5,312.0 L102.0,313.1 L103.5,314.6 L105.0,316.6 L106.5,319.6 L108.0,327.1 M93.2,319.8 L94.7,313.4 L96.2,311.6 L97.7,310.6 L99.2,310.2 L100.7,310.2 L102.2,310.6 L103.7,311.3 L105.2,312.3 L106.7,313.8 L108.2,315.9 L109.7,318.8 L111.2,326.3 M96.5,319.1 L98.0,312.7 L99.5,310.8 L101.0,309.8 L102.5,309.4 L104.0,309.4 L105.5,309.8 L107.0,310.5 L108.5,311.6 L110.0,313.1 L111.5,315.1 L113.0,318.1 L114.5,325.6 M99.7,318.3 L101.2,311.9 L102.7,310.1 L104.2,309.1 L105.7,308.7 L107.2,308.7 L108.7,309.1 L110.2,309.8 L111.7,310.8 L113.2,312.3 L114.7,314.4 L116.2,317.3 L117.7,324.8 M103.0,317.6 L104.5,311.2 L106.0,309.3 L107.5,308.3 L109.0,307.9 L110.5,307.9 L112.0,308.3 L113.5,309.0 L115.0,310.1 L116.5,311.6 L118.0,313.6 L119.5,316.6 L121.0,324.1 M106.2,316.8 L107.7,310.4 L109.2,308.6 L110.7,307.6 L112.2,307.2 L113.7,307.2 L115.2,307.6 L116.7,308.3 L118.2,309.3 L119.7,310.8 L121.2,312.9 L122.7,315.8 L124.2,323.3 M109.5,316.1 L111.0,309.7 L112.5,307.8 L114.0,306.8 L115.5,306.4 L117.0,306.4 L118.5,306.8 L120.0,307.5 L121.5,308.6 L123.0,310.1 L124.5,312.1 L126.0,315.1 L127.5,322.6 M112.7,315.3 L114.2,308.9 L115.7,307.1 L117.2,306.1 L118.7,305.7 L120.2,305.7 L121.7,306.1 L123.2,306.8 L124.7,307.8 L126.2,309.3 L127.7,311.4 L129.2,314.3 L130.7,321.8 M88.9,314.0 L114.9,308.0 M92.1,311.8 L118.1,305.8 M95.7,312.1 L121.7,306.1 M99.3,314.4 L125.3,308.4 M102.5,318.9 L128.5,312.9 M91.2,322.9 L91.2,312.1 M95.7,324.6 L95.7,312.1 M100.2,326.2 L100.2,315.3 M87.3,317.1 L104.1,323.2 M89.3,313.5 L102.1,318.1" fill="none" stroke="#e2dad1" stroke-width="0.9"/>
<path d="M37.5,324.0 L38.6,318.4 L39.8,316.5 L40.9,315.5 L42.0,314.8 L43.1,314.4 L69.1,308.4 L70.2,308.3 L71.4,308.4 L72.5,308.8 L73.6,309.2 L74.8,310.0 L75.9,310.9 L77.0,312.1 L78.1,313.5 L79.2,315.4 L80.4,318.0 L81.5,324.5 L55.5,330.5 Z" fill="#746558" stroke="#e2dad1" stroke-width="1.3" stroke-linejoin="round"/><path d="M37.5,324.0 L39.0,317.6 L40.5,315.8 L42.0,314.8 L43.5,314.4 L45.0,314.4 L46.5,314.8 L48.0,315.5 L49.5,316.5 L51.0,318.0 L52.5,320.1 L54.0,323.0 L55.5,330.5 M40.8,323.2 L42.2,316.9 L43.8,315.0 L45.2,314.0 L46.8,313.6 L48.2,313.6 L49.8,314.0 L51.2,314.7 L52.8,315.8 L54.2,317.3 L55.8,319.3 L57.2,322.3 L58.8,329.8 M44.0,322.5 L45.5,316.1 L47.0,314.3 L48.5,313.3 L50.0,312.9 L51.5,312.9 L53.0,313.2 L54.5,314.0 L56.0,315.0 L57.5,316.5 L59.0,318.6 L60.5,321.5 L62.0,329.0 M47.2,321.8 L48.8,315.4 L50.2,313.5 L51.8,312.5 L53.2,312.1 L54.8,312.1 L56.2,312.5 L57.8,313.2 L59.2,314.3 L60.8,315.8 L62.2,317.8 L63.8,320.8 L65.2,328.2 M50.5,321.0 L52.0,314.6 L53.5,312.8 L55.0,311.8 L56.5,311.4 L58.0,311.4 L59.5,311.8 L61.0,312.5 L62.5,313.5 L64.0,315.0 L65.5,317.1 L67.0,320.0 L68.5,327.5 M53.8,320.2 L55.2,313.9 L56.8,312.0 L58.2,311.0 L59.8,310.6 L61.2,310.6 L62.8,311.0 L64.2,311.7 L65.8,312.8 L67.2,314.3 L68.8,316.3 L70.2,319.3 L71.8,326.8 M57.0,319.5 L58.5,313.1 L60.0,311.3 L61.5,310.3 L63.0,309.9 L64.5,309.9 L66.0,310.2 L67.5,311.0 L69.0,312.0 L70.5,313.5 L72.0,315.6 L73.5,318.5 L75.0,326.0 M60.2,318.8 L61.8,312.4 L63.2,310.5 L64.8,309.5 L66.2,309.1 L67.8,309.1 L69.2,309.5 L70.8,310.2 L72.2,311.3 L73.8,312.8 L75.2,314.8 L76.8,317.8 L78.2,325.2 M63.5,318.0 L65.0,311.6 L66.5,309.8 L68.0,308.8 L69.5,308.4 L71.0,308.4 L72.5,308.8 L74.0,309.5 L75.5,310.5 L77.0,312.0 L78.5,314.1 L80.0,317.0 L81.5,324.5 M39.7,316.7 L65.7,310.7 M42.9,314.5 L68.9,308.5 M46.5,314.8 L72.5,308.8 M50.1,317.1 L76.1,311.1 M53.3,321.6 L79.3,315.6 M42.0,325.6 L42.0,314.8 M46.5,327.2 L46.5,314.8 M51.0,328.9 L51.0,318.0 M38.1,319.8 L54.9,325.9 M40.1,316.2 L52.9,320.8" fill="none" stroke="#e2dad1" stroke-width="0.9"/>
<path d="M117.3,330.0 L118.4,324.4 L119.5,322.5 L120.7,321.5 L121.8,320.8 L122.9,320.4 L148.9,314.4 L150.1,314.3 L151.2,314.4 L152.3,314.8 L153.4,315.2 L154.6,316.0 L155.7,316.9 L156.8,318.1 L157.9,319.5 L159.1,321.4 L160.2,324.0 L161.3,330.5 L135.3,336.5 Z" fill="#746558" stroke="#e2dad1" stroke-width="1.3" stroke-linejoin="round"/><path d="M117.3,330.0 L118.8,323.6 L120.3,321.8 L121.8,320.8 L123.3,320.4 L124.8,320.4 L126.3,320.8 L127.8,321.5 L129.3,322.5 L130.8,324.0 L132.3,326.1 L133.8,329.0 L135.3,336.5 M120.5,329.2 L122.0,322.9 L123.5,321.0 L125.0,320.0 L126.5,319.6 L128.1,319.6 L129.6,320.0 L131.1,320.7 L132.6,321.8 L134.1,323.3 L135.6,325.3 L137.1,328.3 L138.6,335.8 M123.8,328.5 L125.3,322.1 L126.8,320.3 L128.3,319.3 L129.8,318.9 L131.3,318.9 L132.8,319.2 L134.3,320.0 L135.8,321.0 L137.3,322.5 L138.8,324.6 L140.3,327.5 L141.8,335.0 M127.0,327.8 L128.6,321.4 L130.1,319.5 L131.6,318.5 L133.1,318.1 L134.6,318.1 L136.1,318.5 L137.6,319.2 L139.1,320.3 L140.6,321.8 L142.1,323.8 L143.6,326.8 L145.1,334.2 M130.3,327.0 L131.8,320.6 L133.3,318.8 L134.8,317.8 L136.3,317.4 L137.8,317.4 L139.3,317.8 L140.8,318.5 L142.3,319.5 L143.8,321.0 L145.3,323.1 L146.8,326.0 L148.3,333.5 M133.6,326.2 L135.1,319.9 L136.6,318.0 L138.1,317.0 L139.6,316.6 L141.1,316.6 L142.6,317.0 L144.1,317.7 L145.6,318.8 L147.1,320.3 L148.6,322.3 L150.1,325.3 L151.6,332.8 M136.8,325.5 L138.3,319.1 L139.8,317.3 L141.3,316.3 L142.8,315.9 L144.3,315.9 L145.8,316.2 L147.3,317.0 L148.8,318.0 L150.3,319.5 L151.8,321.6 L153.3,324.5 L154.8,332.0 M140.1,324.8 L141.6,318.4 L143.1,316.5 L144.6,315.5 L146.1,315.1 L147.6,315.1 L149.1,315.5 L150.6,316.2 L152.1,317.3 L153.6,318.8 L155.1,320.8 L156.6,323.8 L158.1,331.2 M143.3,324.0 L144.8,317.6 L146.3,315.8 L147.8,314.8 L149.3,314.4 L150.8,314.4 L152.3,314.8 L153.8,315.5 L155.3,316.5 L156.8,318.0 L158.3,320.1 L159.8,323.0 L161.3,330.5 M119.5,322.7 L145.5,316.7 M122.7,320.5 L148.7,314.5 M126.3,320.8 L152.3,314.8 M129.9,323.1 L155.9,317.1 M133.1,327.6 L159.1,321.6 M121.8,331.6 L121.8,320.8 M126.3,333.2 L126.3,320.8 M130.8,334.9 L130.8,324.0 M117.9,325.8 L134.7,331.9 M119.9,322.2 L132.7,326.8" fill="none" stroke="#e2dad1" stroke-width="0.9"/>
<path d="M8.3,336.5 L9.4,330.9 L10.6,329.0 L11.7,328.0 L12.8,327.3 L13.9,326.9 L39.9,320.9 L41.0,320.8 L42.2,320.9 L43.3,321.2 L44.4,321.8 L45.5,322.5 L46.7,323.4 L47.8,324.6 L48.9,326.0 L50.0,327.9 L51.2,330.5 L52.3,337.0 L26.3,343.0 Z" fill="#746558" stroke="#e2dad1" stroke-width="1.3" stroke-linejoin="round"/><path d="M8.3,336.5 L9.8,330.1 L11.3,328.3 L12.8,327.3 L14.3,326.9 L15.8,326.9 L17.3,327.2 L18.8,328.0 L20.3,329.0 L21.8,330.5 L23.3,332.6 L24.8,335.5 L26.3,343.0 M11.6,335.8 L13.1,329.4 L14.6,327.5 L16.1,326.5 L17.6,326.1 L19.1,326.1 L20.6,326.5 L22.1,327.2 L23.6,328.3 L25.1,329.8 L26.6,331.8 L28.1,334.8 L29.6,342.2 M14.8,335.0 L16.3,328.6 L17.8,326.8 L19.3,325.8 L20.8,325.4 L22.3,325.4 L23.8,325.8 L25.3,326.5 L26.8,327.5 L28.3,329.0 L29.8,331.1 L31.3,334.0 L32.8,341.5 M18.1,334.2 L19.6,327.9 L21.1,326.0 L22.6,325.0 L24.1,324.6 L25.6,324.6 L27.1,325.0 L28.6,325.7 L30.1,326.8 L31.6,328.3 L33.0,330.3 L34.5,333.3 L36.0,340.8 M21.3,333.5 L22.8,327.1 L24.3,325.3 L25.8,324.3 L27.3,323.9 L28.8,323.9 L30.3,324.2 L31.8,325.0 L33.3,326.0 L34.8,327.5 L36.3,329.6 L37.8,332.5 L39.3,340.0 M24.6,332.8 L26.1,326.4 L27.6,324.5 L29.1,323.5 L30.6,323.1 L32.0,323.1 L33.5,323.5 L35.0,324.2 L36.5,325.3 L38.0,326.8 L39.5,328.8 L41.0,331.8 L42.5,339.2 M27.8,332.0 L29.3,325.6 L30.8,323.8 L32.3,322.8 L33.8,322.4 L35.3,322.4 L36.8,322.8 L38.3,323.5 L39.8,324.5 L41.3,326.0 L42.8,328.1 L44.3,331.0 L45.8,338.5 M31.1,331.2 L32.5,324.9 L34.0,323.0 L35.5,322.0 L37.0,321.6 L38.5,321.6 L40.0,322.0 L41.5,322.7 L43.0,323.8 L44.5,325.3 L46.0,327.3 L47.5,330.3 L49.0,337.8 M34.3,330.5 L35.8,324.1 L37.3,322.3 L38.8,321.3 L40.3,320.9 L41.8,320.9 L43.3,321.2 L44.8,322.0 L46.3,323.0 L47.8,324.5 L49.3,326.6 L50.8,329.5 L52.3,337.0 M10.5,329.2 L36.5,323.2 M13.7,327.0 L39.7,321.0 M17.3,327.2 L43.3,321.2 M20.9,329.6 L46.9,323.6 M24.1,334.1 L50.1,328.1 M12.8,338.1 L12.8,327.3 M17.3,339.8 L17.3,327.2 M21.8,341.4 L21.8,330.5 M8.9,332.3 L25.7,338.4 M10.9,328.7 L23.7,333.3" fill="none" stroke="#e2dad1" stroke-width="0.9"/>
<path d="M144.4,338.5 L145.5,332.9 L146.7,331.0 L147.8,330.0 L148.9,329.3 L150.0,328.9 L176.0,322.9 L177.2,322.8 L178.3,322.9 L179.4,323.2 L180.5,323.8 L181.7,324.5 L182.8,325.4 L183.9,326.6 L185.0,328.0 L186.2,329.9 L187.3,332.5 L188.4,339.0 L162.4,345.0 Z" fill="#746558" stroke="#e2dad1" stroke-width="1.3" stroke-linejoin="round"/><path d="M144.4,338.5 L145.9,332.1 L147.4,330.3 L148.9,329.3 L150.4,328.9 L151.9,328.9 L153.4,329.2 L154.9,330.0 L156.4,331.0 L157.9,332.5 L159.4,334.6 L160.9,337.5 L162.4,345.0 M147.7,337.8 L149.2,331.4 L150.7,329.5 L152.2,328.5 L153.7,328.1 L155.2,328.1 L156.7,328.5 L158.2,329.2 L159.7,330.3 L161.2,331.8 L162.7,333.8 L164.2,336.8 L165.7,344.2 M150.9,337.0 L152.4,330.6 L153.9,328.8 L155.4,327.8 L156.9,327.4 L158.4,327.4 L159.9,327.8 L161.4,328.5 L162.9,329.5 L164.4,331.0 L165.9,333.1 L167.4,336.0 L168.9,343.5 M154.2,336.2 L155.7,329.9 L157.2,328.0 L158.7,327.0 L160.2,326.6 L161.7,326.6 L163.2,327.0 L164.7,327.7 L166.2,328.8 L167.7,330.3 L169.2,332.3 L170.7,335.3 L172.2,342.8 M157.4,335.5 L158.9,329.1 L160.4,327.3 L161.9,326.3 L163.4,325.9 L164.9,325.9 L166.4,326.2 L167.9,327.0 L169.4,328.0 L170.9,329.5 L172.4,331.6 L173.9,334.5 L175.4,342.0 M160.7,334.8 L162.2,328.4 L163.7,326.5 L165.2,325.5 L166.7,325.1 L168.2,325.1 L169.7,325.5 L171.2,326.2 L172.7,327.3 L174.2,328.8 L175.7,330.8 L177.2,333.8 L178.7,341.2 M163.9,334.0 L165.4,327.6 L166.9,325.8 L168.4,324.8 L169.9,324.4 L171.4,324.4 L172.9,324.8 L174.4,325.5 L175.9,326.5 L177.4,328.0 L178.9,330.1 L180.4,333.0 L181.9,340.5 M167.2,333.2 L168.7,326.9 L170.2,325.0 L171.7,324.0 L173.2,323.6 L174.7,323.6 L176.2,324.0 L177.7,324.7 L179.2,325.8 L180.7,327.3 L182.2,329.3 L183.7,332.3 L185.2,339.8 M170.4,332.5 L171.9,326.1 L173.4,324.3 L174.9,323.3 L176.4,322.9 L177.9,322.9 L179.4,323.2 L180.9,324.0 L182.4,325.0 L183.9,326.5 L185.4,328.6 L186.9,331.5 L188.4,339.0 M146.6,331.2 L172.6,325.2 M149.8,329.0 L175.8,323.0 M153.4,329.2 L179.4,323.2 M157.0,331.6 L183.0,325.6 M160.2,336.1 L186.2,330.1 M148.9,340.1 L148.9,329.3 M153.4,341.8 L153.4,329.2 M157.9,343.4 L157.9,332.5 M145.0,334.3 L161.8,340.4 M147.0,330.7 L159.8,335.3" fill="none" stroke="#e2dad1" stroke-width="0.9"/>
<path d="M421,222 C414,245 408,265 403.5,283" fill="none" stroke="#8a9696" stroke-width="1.5"/>
<defs><filter id="soft" x="-20%" y="-50%" width="140%" height="200%"><feGaussianBlur stdDeviation="1.3"/></filter><linearGradient id="streak" gradientUnits="userSpaceOnUse" x1="212" y1="0" x2="292" y2="0"><stop offset="0" stop-color="#8c8076" stop-opacity="0"/><stop offset="0.5" stop-color="#8c8076" stop-opacity="0.8"/><stop offset="1" stop-color="#8e8278"/></linearGradient></defs><g filter="url(#soft)"><path d="M234,338 L238,320 C246,313 256,309.5 265,309.4 Q272,309.5 279.4,314.5 Q285,309 290.3,309.4 Q296,309.8 302.5,312.3 Q307,307 312.6,306.9 Q318,306.9 324,311 L334,318 L300,342 Z" fill="#7f7268"/><path d="M222,352 C280,349 330,348 385,348 L385,355 C330,357 280,358 222,357 Z" fill="#817469"/></g><path d="M214,324 L292,324 M218,334 L282,334 M214,344.8 L270,344.8" stroke="url(#streak)" stroke-width="2.6"/>
<path d="M297.2,314.7 L377.8,312.0 L367.0,337.5 L263.2,343.0 Z" fill="#7d7066" stroke="#ddd8d2" stroke-width="1.4" stroke-linejoin="round"/><path d="M263.2,343.0 L367.0,337.5 L368.0,348.8 L262.5,348.0 Z" fill="#6e6157" stroke="#ddd8d2" stroke-width="1.3"/><path d="M303.0,314.5 L270.6,342.6 M270.6,342.6 L270.0,348.1 M308.7,314.3 L278.0,342.2 M278.0,342.2 L277.6,348.1 M314.5,314.1 L285.4,341.8 M285.4,341.8 L285.1,348.2 M320.2,313.9 L292.9,341.4 M292.9,341.4 L292.6,348.2 M326.0,313.7 L300.3,341.0 M300.3,341.0 L300.2,348.3 M331.7,313.5 L307.7,340.6 M307.7,340.6 L307.7,348.3 M337.5,313.4 L315.1,340.2 M315.1,340.2 L315.2,348.4 M343.3,313.2 L322.5,339.9 M322.5,339.9 L322.8,348.5 M349.0,313.0 L329.9,339.5 M329.9,339.5 L330.3,348.5 M354.8,312.8 L337.3,339.1 M337.3,339.1 L337.9,348.6 M360.5,312.6 L344.8,338.7 M344.8,338.7 L345.4,348.6 M366.3,312.4 L352.2,338.3 M352.2,338.3 L352.9,348.7 M372.0,312.2 L359.6,337.9 M359.6,337.9 L360.5,348.7 M293.4,317.8 L376.6,314.8 M289.6,321.0 L375.4,317.7 M285.9,324.1 L374.2,320.5 M282.1,327.3 L373.0,323.3 M278.3,330.4 L371.8,326.2 M274.5,333.6 L370.6,329.0 M270.8,336.7 L369.4,331.8 M267.0,339.9 L368.2,334.7" stroke="#d6d0ca" stroke-width="0.9" fill="none"/><path d="M323,314 L292,342 M350,313 L320,340" stroke="#e6e2de" stroke-width="1.6"/><path d="M367.0,337.5 L391.0,312.5 L393.0,323.5 L368.0,348.8 Z" fill="#6a5e54" stroke="#e4dfda" stroke-width="1.3" stroke-linejoin="round"/><path d="M370.0,334.4 L371.1,345.6 M373.0,331.2 L374.2,342.5 M376.0,328.1 L377.4,339.3 M379.0,325.0 L380.5,336.1 M382.0,321.9 L383.6,333.0 M385.0,318.8 L386.8,329.8 M388.0,315.6 L389.9,326.7" stroke="#e4dfda" stroke-width="1.5"/><path d="M369.8,346.2 l-1.6,2.6 l3.4,-0.2 Z" fill="#1e1e1e"/><path d="M373.4,342.6 l-1.6,2.6 l3.4,-0.2 Z" fill="#1e1e1e"/><path d="M376.9,339.0 l-1.6,2.6 l3.4,-0.2 Z" fill="#1e1e1e"/><path d="M380.5,335.3 l-1.6,2.6 l3.4,-0.2 Z" fill="#1e1e1e"/><path d="M384.1,331.7 l-1.6,2.6 l3.4,-0.2 Z" fill="#1e1e1e"/><path d="M387.6,328.1 l-1.6,2.6 l3.4,-0.2 Z" fill="#1e1e1e"/><path d="M391.2,324.5 l-1.6,2.6 l3.4,-0.2 Z" fill="#1e1e1e"/><path d="M372,332 L401,283 M379,325 L402.5,283 M386,318 L404,283 M391,312.5 L405,283" stroke="#e4dfda" stroke-width="1.1" fill="none"/>
<defs></defs><clipPath id="gn"><path d="M564.2,241.6 L728.1,241.6 L731.6,290.6 L554.8,294.1 Z"/></clipPath><path d="M395.4,241.6 L549.8,294.1 M549.8,241.6 L395.4,294.1 M411.4,241.6 L565.8,294.1 M565.8,241.6 L411.4,294.1 M427.4,241.6 L581.8,294.1 M581.8,241.6 L427.4,294.1 M443.4,241.6 L597.8,294.1 M597.8,241.6 L443.4,294.1 M459.4,241.6 L613.8,294.1 M613.8,241.6 L459.4,294.1 M475.4,241.6 L629.8,294.1 M629.8,241.6 L475.4,294.1 M491.4,241.6 L645.8,294.1 M645.8,241.6 L491.4,294.1 M507.4,241.6 L661.8,294.1 M661.8,241.6 L507.4,294.1 M523.4,241.6 L677.8,294.1 M677.8,241.6 L523.4,294.1 M539.4,241.6 L693.8,294.1 M693.8,241.6 L539.4,294.1 M555.4,241.6 L709.8,294.1 M709.8,241.6 L555.4,294.1 M571.4,241.6 L725.8,294.1 M725.8,241.6 L571.4,294.1 M587.4,241.6 L741.8,294.1 M741.8,241.6 L587.4,294.1 M603.4,241.6 L757.8,294.1 M757.8,241.6 L603.4,294.1 M619.4,241.6 L773.8,294.1 M773.8,241.6 L619.4,294.1 M635.4,241.6 L789.8,294.1 M789.8,241.6 L635.4,294.1 M651.4,241.6 L805.8,294.1 M805.8,241.6 L651.4,294.1 M667.4,241.6 L821.8,294.1 M821.8,241.6 L667.4,294.1 M683.4,241.6 L837.8,294.1 M837.8,241.6 L683.4,294.1 M699.4,241.6 L853.8,294.1 M853.8,241.6 L699.4,294.1 M715.4,241.6 L869.8,294.1 M869.8,241.6 L715.4,294.1 M731.4,241.6 L885.8,294.1 M885.8,241.6 L731.4,294.1 M747.4,241.6 L901.8,294.1 M901.8,241.6 L747.4,294.1 M763.4,241.6 L917.8,294.1 M917.8,241.6 L763.4,294.1 M779.4,241.6 L933.8,294.1 M933.8,241.6 L779.4,294.1 M795.4,241.6 L949.8,294.1 M949.8,241.6 L795.4,294.1 M811.4,241.6 L965.8,294.1 M965.8,241.6 L811.4,294.1 M827.4,241.6 L981.8,294.1 M981.8,241.6 L827.4,294.1 M843.4,241.6 L997.8,294.1 M997.8,241.6 L843.4,294.1 M859.4,241.6 L1013.8,294.1 M1013.8,241.6 L859.4,294.1 M875.4,241.6 L1029.8,294.1 M1029.8,241.6 L875.4,294.1" clip-path="url(#gn)" stroke="#677979" stroke-width="1.3" fill="none"/>
<path d="M564.2,241.6 L728.1,241.6 L731.6,290.6 L554.8,294.1 Z" fill="none" stroke="#6d8080" stroke-width="1.5"/>
<path d="M646,239 L650,291" stroke="#6d8080" stroke-width="1.1"/>
<path d="M555,294 C552,305 546,316 539.7,322.7 M731.6,290.6 C729,305 720,317 709,325" fill="none" stroke="#6d7c7c" stroke-width="1.1"/>
<path d="M565.9,235 L564.5,241.6 M727.5,235 L728.1,241.6" stroke="#6d7c7c" stroke-width="1.1"/>
<ellipse cx="588.7" cy="239.8" rx="5.6" ry="2.4" fill="#737373"/>
<ellipse cx="617.8" cy="239.3" rx="5.6" ry="2.4" fill="#737373"/>
<ellipse cx="670.3" cy="238.7" rx="5.6" ry="2.4" fill="#737373"/>
<ellipse cx="698.3" cy="239.3" rx="5.6" ry="2.4" fill="#737373"/>
<ellipse cx="644.7" cy="232.5" rx="5.6" ry="5.2" fill="#737373"/>
<path d="M554.7,209.6 q3.1,-1.5 6.2,0 t6.2,0 l0,6.2 q-3.1,-1.5 -6.2,0 t-6.2,0 Z" fill="#777777"/><line x1="567.2" y1="209.1" x2="567.2" y2="231.2" stroke="#777777" stroke-width="2"/><ellipse cx="566.0" cy="231.2" rx="4.6" ry="4.3" fill="#777777"/>
<path d="M716.9,210.0 q3.1,-1.5 6.2,0 t6.2,0 l0,6.2 q-3.1,-1.5 -6.2,0 t-6.2,0 Z" fill="#777777"/><line x1="729.4" y1="209.5" x2="729.4" y2="231.4" stroke="#777777" stroke-width="2"/><ellipse cx="727.4" cy="231.4" rx="4.6" ry="4.3" fill="#777777"/>
<ellipse cx="539.7" cy="322.8" rx="3.5" ry="2" fill="#8a8a8a"/><ellipse cx="709" cy="324.8" rx="3.5" ry="2" fill="#8a8a8a"/>
<clipPath id="dn"><path d="M1206.3,239.8 L1435.0,239.8 L1441.0,286.3 L1189.8,289.3 Z"/></clipPath><path d="M1019.8,239.8 L1184.8,289.3 M1184.8,239.8 L1019.8,289.3 M1039.8,239.8 L1204.8,289.3 M1204.8,239.8 L1039.8,289.3 M1059.8,239.8 L1224.8,289.3 M1224.8,239.8 L1059.8,289.3 M1079.8,239.8 L1244.8,289.3 M1244.8,239.8 L1079.8,289.3 M1099.8,239.8 L1264.8,289.3 M1264.8,239.8 L1099.8,289.3 M1119.8,239.8 L1284.8,289.3 M1284.8,239.8 L1119.8,289.3 M1139.8,239.8 L1304.8,289.3 M1304.8,239.8 L1139.8,289.3 M1159.8,239.8 L1324.8,289.3 M1324.8,239.8 L1159.8,289.3 M1179.8,239.8 L1344.8,289.3 M1344.8,239.8 L1179.8,289.3 M1199.8,239.8 L1364.8,289.3 M1364.8,239.8 L1199.8,289.3 M1219.8,239.8 L1384.8,289.3 M1384.8,239.8 L1219.8,289.3 M1239.8,239.8 L1404.8,289.3 M1404.8,239.8 L1239.8,289.3 M1259.8,239.8 L1424.8,289.3 M1424.8,239.8 L1259.8,289.3 M1279.8,239.8 L1444.8,289.3 M1444.8,239.8 L1279.8,289.3 M1299.8,239.8 L1464.8,289.3 M1464.8,239.8 L1299.8,289.3 M1319.8,239.8 L1484.8,289.3 M1484.8,239.8 L1319.8,289.3 M1339.8,239.8 L1504.8,289.3 M1504.8,239.8 L1339.8,289.3 M1359.8,239.8 L1524.8,289.3 M1524.8,239.8 L1359.8,289.3 M1379.8,239.8 L1544.8,289.3 M1544.8,239.8 L1379.8,289.3 M1399.8,239.8 L1564.8,289.3 M1564.8,239.8 L1399.8,289.3 M1419.8,239.8 L1584.8,289.3 M1584.8,239.8 L1419.8,289.3 M1439.8,239.8 L1604.8,289.3 M1604.8,239.8 L1439.8,289.3 M1459.8,239.8 L1624.8,289.3 M1624.8,239.8 L1459.8,289.3 M1479.8,239.8 L1644.8,289.3 M1644.8,239.8 L1479.8,289.3 M1499.8,239.8 L1664.8,289.3 M1664.8,239.8 L1499.8,289.3 M1519.8,239.8 L1684.8,289.3 M1684.8,239.8 L1519.8,289.3 M1539.8,239.8 L1704.8,289.3 M1704.8,239.8 L1539.8,289.3 M1559.8,239.8 L1724.8,289.3 M1724.8,239.8 L1559.8,289.3 M1579.8,239.8 L1744.8,289.3 M1744.8,239.8 L1579.8,289.3 M1599.8,239.8 L1764.8,289.3 M1764.8,239.8 L1599.8,289.3" clip-path="url(#dn)" stroke="#6c7a7a" stroke-width="1.2" fill="none"/>
<path d="M1206.3,239.8 L1435.0,239.8 L1441.0,286.3 L1189.8,289.3 Z" fill="none" stroke="#6d7d7d" stroke-width="1.8"/>
<ellipse cx="1243.8" cy="238.3" rx="4" ry="2.3" fill="#737373"/>
<ellipse cx="1284.3" cy="238.3" rx="4" ry="2.3" fill="#737373"/>
<ellipse cx="1321.0" cy="238.3" rx="4" ry="2.3" fill="#737373"/>
<ellipse cx="1358.5" cy="238.3" rx="4" ry="2.3" fill="#737373"/>
<ellipse cx="1399.8" cy="238.3" rx="4" ry="2.3" fill="#737373"/>
<path d="M1195.7,210.6 q3.1,-1.5 6.2,0 t6.2,0 l0,6.2 q-3.1,-1.5 -6.2,0 t-6.2,0 Z" fill="#777777"/><line x1="1208.2" y1="210.1" x2="1208.2" y2="230.8" stroke="#777777" stroke-width="2"/><ellipse cx="1207.0" cy="230.8" rx="6.3" ry="3.6" fill="#777777"/>
<path d="M1424.1,210.6 q3.1,-1.5 6.2,0 t6.2,0 l0,6.2 q-3.1,-1.5 -6.2,0 t-6.2,0 Z" fill="#777777"/><line x1="1436.6" y1="210.1" x2="1436.6" y2="230.8" stroke="#777777" stroke-width="2"/><ellipse cx="1435.5" cy="230.8" rx="6.3" ry="3.6" fill="#777777"/>
<path d="M1390.5,212 L1390.8,224" stroke="#777" stroke-width="2"/><circle cx="1390.8" cy="225.6" r="2.8" fill="#777"/>
<path d="M1322,226 L1322,230" stroke="#888" stroke-width="0.8"/>
<path d="M1531.7,223.8 L1486.3,352.2 M1539.2,223.8 L1494.8,427.8" stroke="#6f7e7e" stroke-width="1.2"/>
<path d="M1471.2,363.6 L1485.4,352.2 L1488.2,366.4 L1476.9,372.1 Z M1480.7,426.8 L1495.8,426.8 L1494.8,439.1 L1481.6,442.9 Z" fill="#6e6e6e"/>
<path d="M1476,370 L1438.2,392.8 M1481.6,436.3 L1446.7,447.6" stroke="#6f7e7e" stroke-width="1.1"/>
<path d="M1227.0,437.5 C1229.0,436.4 1233.5,432.3 1239.0,431.0 C1244.5,429.7 1252.8,430.2 1260.0,429.5 C1267.2,428.8 1274.8,428.8 1282.3,426.5 C1289.8,424.2 1296.5,420.2 1305.0,416.0 C1313.5,411.8 1322.3,405.1 1333.3,401.5 C1344.3,397.9 1359.0,395.9 1371.0,394.5 C1383.0,393.1 1394.5,393.3 1405.0,393.0 C1415.5,392.7 1429.2,392.8 1434.0,392.8" fill="none" stroke="#6b7878" stroke-width="1.1"/><path d="M1227.0,440.0 C1230.5,440.4 1238.5,441.1 1248.3,442.3 C1258.1,443.5 1275.7,445.2 1286.0,447.0 C1296.3,448.8 1302.1,451.0 1310.0,453.0 C1317.9,455.0 1323.1,457.7 1333.3,459.0 C1343.5,460.3 1358.4,461.3 1371.0,461.0 C1383.6,460.7 1399.2,458.4 1409.0,457.0 C1418.8,455.6 1426.2,453.1 1429.7,452.3" fill="none" stroke="#6b7878" stroke-width="1.1"/><path d="M1239.2,431.0 Q1234.5,436.2 1239.2,441.3 M1249.0,430.3 Q1243.5,436.3 1249.0,442.4 M1258.0,429.6 Q1251.8,436.6 1258.0,443.5 M1266.6,428.6 Q1259.4,436.6 1266.6,444.6 M1274.9,427.5 Q1266.7,436.6 1274.9,445.6 M1282.9,426.2 Q1273.7,436.4 1282.9,446.6 M1290.7,422.6 Q1279.2,435.4 1290.7,448.2 M1298.4,419.1 Q1284.4,434.6 1298.4,450.1 M1305.9,415.5 Q1289.5,433.8 1305.9,452.0 M1313.3,411.8 Q1294.3,432.8 1313.3,453.8 M1320.6,408.0 Q1299.1,431.9 1320.6,455.7 M1327.7,404.4 Q1303.8,431.0 1327.7,457.6 M1334.8,401.2 Q1308.8,430.1 1334.8,459.1 M1341.8,399.9 Q1315.0,429.7 1341.8,459.5 M1348.8,398.6 Q1321.2,429.2 1348.8,459.8 M1355.6,397.4 Q1327.4,428.8 1355.6,460.2 M1362.4,396.1 Q1333.4,428.3 1362.4,460.5 M1369.2,394.8 Q1339.5,427.9 1369.2,460.9 M1375.9,394.3 Q1346.1,427.4 1375.9,460.5 M1382.5,394.0 Q1352.9,426.9 1382.5,459.8 M1389.1,393.7 Q1359.7,426.4 1389.1,459.1 M1395.6,393.4 Q1366.4,425.9 1395.6,458.4 M1402.1,393.1 Q1373.1,425.4 1402.1,457.7 M1408.6,393.0 Q1379.7,425.0 1408.6,457.0 M1415.0,392.9 Q1386.8,424.3 1415.0,455.6 M1421.4,392.9 Q1393.8,423.5 1421.4,454.2 M1427.7,392.8 Q1400.7,422.8 1427.7,452.8 M1434.0,392.8 Q1407.2,422.6 1434.0,452.3" fill="none" stroke="#6b7878" stroke-width="0.8"/><path d="M1227.0,438.1 C1228.7,437.4 1234.1,434.4 1237.4,433.6 C1240.8,432.8 1243.9,433.4 1246.9,433.3 C1250.0,433.2 1252.8,433.2 1255.7,433.1 C1258.5,433.0 1261.2,432.8 1263.9,432.6 C1266.6,432.4 1269.2,432.2 1271.8,432.0 C1274.4,431.8 1277.0,431.8 1279.4,431.3 C1281.9,430.8 1284.1,429.8 1286.4,429.0 C1288.7,428.3 1290.9,427.5 1293.1,426.8 C1295.4,426.1 1297.6,425.4 1299.7,424.7 C1301.9,423.9 1304.0,423.1 1306.2,422.3 C1308.3,421.5 1310.4,420.7 1312.5,420.0 C1314.6,419.2 1316.7,418.4 1318.8,417.7 C1320.8,416.9 1322.9,416.2 1325.1,415.7 C1327.2,415.2 1329.6,415.1 1331.8,414.8 C1334.0,414.5 1336.2,414.2 1338.4,413.9 C1340.7,413.6 1342.9,413.3 1345.0,413.1 C1347.2,412.8 1349.4,412.5 1351.6,412.2 C1353.7,411.9 1355.9,411.6 1358.0,411.4 C1360.2,411.1 1362.5,411.0 1364.7,410.8 C1366.9,410.7 1369.2,410.6 1371.4,410.4 C1373.6,410.3 1375.9,410.2 1378.1,410.1 C1380.3,409.9 1382.5,409.8 1384.7,409.7 C1386.9,409.5 1389.0,409.4 1391.2,409.3 C1393.4,409.2 1395.6,409.1 1397.8,409.0 C1400.0,408.9 1402.2,408.7 1404.4,408.6 C1406.6,408.5 1408.8,408.3 1411.0,408.2 C1413.2,408.1 1415.4,407.9 1417.6,407.8 C1419.7,407.7 1422.9,407.7 1424.0,407.7" fill="none" stroke="#6b7878" stroke-width="0.8"/><path d="M1227.0,438.8 C1228.6,438.3 1233.7,436.6 1236.9,436.2 C1240.1,435.7 1243.2,436.3 1246.2,436.3 C1249.2,436.4 1252.1,436.5 1254.9,436.6 C1257.7,436.6 1260.4,436.6 1263.0,436.6 C1265.7,436.6 1268.2,436.6 1270.8,436.6 C1273.3,436.5 1275.9,436.6 1278.3,436.4 C1280.7,436.2 1282.8,435.7 1285.0,435.4 C1287.1,435.1 1289.3,434.9 1291.4,434.6 C1293.5,434.3 1295.6,434.1 1297.7,433.8 C1299.8,433.5 1301.8,433.1 1303.8,432.8 C1305.8,432.5 1307.8,432.2 1309.8,431.9 C1311.8,431.6 1313.8,431.2 1315.8,431.0 C1317.8,430.7 1319.7,430.4 1321.8,430.1 C1323.9,429.9 1326.2,429.8 1328.4,429.7 C1330.6,429.5 1332.8,429.4 1335.0,429.2 C1337.2,429.1 1339.3,428.9 1341.5,428.8 C1343.7,428.6 1345.8,428.5 1347.9,428.3 C1350.1,428.2 1352.2,428.0 1354.3,427.9 C1356.5,427.7 1358.8,427.5 1361.0,427.4 C1363.2,427.2 1365.5,427.1 1367.7,426.9 C1369.9,426.7 1372.2,426.6 1374.4,426.4 C1376.6,426.2 1378.8,426.1 1381.0,425.9 C1383.2,425.7 1385.4,425.6 1387.6,425.4 C1389.8,425.3 1391.9,425.2 1394.2,425.0 C1396.4,424.8 1398.6,424.5 1400.9,424.3 C1403.1,424.0 1405.3,423.8 1407.6,423.5 C1409.8,423.3 1412.0,423.0 1414.2,422.8 C1416.4,422.6 1419.5,422.6 1420.6,422.6" fill="none" stroke="#6b7878" stroke-width="0.8"/><path d="M1227.0,439.4 C1228.7,439.3 1234.1,438.7 1237.4,438.7 C1240.8,438.7 1243.9,439.1 1246.9,439.4 C1250.0,439.6 1252.8,439.8 1255.7,440.0 C1258.5,440.2 1261.2,440.4 1263.9,440.6 C1266.6,440.8 1269.2,440.9 1271.8,441.1 C1274.4,441.2 1277.0,441.4 1279.4,441.5 C1281.9,441.6 1284.1,441.6 1286.4,441.8 C1288.7,441.9 1290.9,442.2 1293.1,442.3 C1295.4,442.5 1297.6,442.7 1299.7,442.9 C1301.9,443.0 1304.0,443.2 1306.2,443.3 C1308.3,443.5 1310.4,443.6 1312.5,443.8 C1314.6,444.0 1316.7,444.1 1318.8,444.3 C1320.8,444.4 1322.9,444.6 1325.1,444.6 C1327.2,444.7 1329.6,444.6 1331.8,444.6 C1334.0,444.6 1336.2,444.5 1338.4,444.5 C1340.7,444.5 1342.9,444.5 1345.0,444.5 C1347.2,444.5 1349.4,444.4 1351.6,444.4 C1353.7,444.4 1355.9,444.5 1358.0,444.4 C1360.2,444.3 1362.5,444.1 1364.7,443.9 C1366.9,443.8 1369.2,443.5 1371.4,443.3 C1373.6,443.1 1375.9,442.9 1378.1,442.7 C1380.3,442.5 1382.5,442.4 1384.7,442.2 C1386.9,442.0 1389.0,441.8 1391.2,441.6 C1393.4,441.4 1395.6,441.3 1397.8,441.0 C1400.0,440.8 1402.2,440.3 1404.4,440.0 C1406.6,439.6 1408.8,439.2 1411.0,438.9 C1413.2,438.5 1415.4,438.0 1417.6,437.8 C1419.7,437.5 1422.9,437.5 1424.0,437.4" fill="none" stroke="#6b7878" stroke-width="0.8"/>
<path d="M1434,392.8 C1418,397 1408,412 1409,425 C1410,438 1420,448 1446.7,447.6" fill="none" stroke="#6b7878" stroke-width="1.2"/>
<path d="M1428,398 C1416,404 1412,414 1413,425 C1414,436 1422,446 1438,450 M1424,396 C1414,404 1412,414 1416,425" fill="none" stroke="#6b7878" stroke-width="0.8"/>
<circle cx="1438.2" cy="392.8" r="3.6" fill="#6e6e6e"/>
<circle cx="1419.3" cy="401.3" r="3.6" fill="#6e6e6e"/>
<circle cx="1412.7" cy="409.8" r="3.6" fill="#6e6e6e"/>
<circle cx="1408.0" cy="420.2" r="3.6" fill="#6e6e6e"/>
<circle cx="1408.0" cy="433.4" r="3.6" fill="#6e6e6e"/>
<circle cx="1416.5" cy="444.8" r="3.6" fill="#6e6e6e"/>
<circle cx="1425.0" cy="450.4" r="3.6" fill="#6e6e6e"/>
<circle cx="1446.7" cy="447.6" r="3.6" fill="#6e6e6e"/>
<path d="M819,224 L783.3,475.3" fill="none" stroke="#7b8686" stroke-width="1.1"/><g clip-path="url(#landclip)"><path d="M819,224 L783.3,475.3" fill="none" stroke="#e2dad1" stroke-width="1.1"/></g>
<path d="M893,224 C896,260 898,300 897,340 C896,380 895,415 899,430 C901,436 903,440 905.5,442.3" fill="none" stroke="#7b8686" stroke-width="1.1"/><g clip-path="url(#landclip)"><path d="M893,224 C896,260 898,300 897,340 C896,380 895,415 899,430 C901,436 903,440 905.5,442.3" fill="none" stroke="#e2dad1" stroke-width="1.1"/></g>
<path d="M783.3,475.3 L905.5,442.3" fill="none" stroke="#7b8686" stroke-width="1.3"/><g clip-path="url(#landclip)"><path d="M783.3,475.3 L905.5,442.3" fill="none" stroke="#e2dad1" stroke-width="1.3"/></g>
<path d="M789.7,473.6 Q794.7,480.1 792.7,485.1 M792.7,488.3 l0.3,11 c0.2,4.5 -6,4.8 -6.3,0.3 l1.8,-3 M805.0,469.4 Q810.0,479.7 808.0,488.4 M808.0,491.6 l0.3,11 c0.2,4.5 -6,4.8 -6.3,0.3 l1.8,-3 M819.7,465.5 Q824.7,473.7 822.7,480.4 M822.7,483.6 l0.3,11 c0.2,4.5 -6,4.8 -6.3,0.3 l1.8,-3 M836.3,461.0 Q841.3,469.5 839.3,476.4 M839.3,479.6 l0.3,11 c0.2,4.5 -6,4.8 -6.3,0.3 l1.8,-3 M853.0,456.5 Q858.0,468.6 856.0,479.1 M856.0,482.3 l0.3,11 c0.2,4.5 -6,4.8 -6.3,0.3 l1.8,-3 M867.7,452.5 Q872.7,461.6 870.7,469.1 M870.7,472.3 l0.3,11 c0.2,4.5 -6,4.8 -6.3,0.3 l1.8,-3 M879.3,449.4 Q891.3,458.0 889.3,465.1 M889.3,468.3 l0.3,11 c0.2,4.5 -6,4.8 -6.3,0.3 l1.8,-3 M895.0,445.1 Q907.0,450.3 905.0,453.9 M906.0,456.7 c3,4 6,5 8,7 c2,2 1,5 -2,4.5 l-2,-2" fill="none" stroke="#7b8686" stroke-width="1.15"/><g clip-path="url(#landclip)"><path d="M789.7,473.6 Q794.7,480.1 792.7,485.1 M792.7,488.3 l0.3,11 c0.2,4.5 -6,4.8 -6.3,0.3 l1.8,-3 M805.0,469.4 Q810.0,479.7 808.0,488.4 M808.0,491.6 l0.3,11 c0.2,4.5 -6,4.8 -6.3,0.3 l1.8,-3 M819.7,465.5 Q824.7,473.7 822.7,480.4 M822.7,483.6 l0.3,11 c0.2,4.5 -6,4.8 -6.3,0.3 l1.8,-3 M836.3,461.0 Q841.3,469.5 839.3,476.4 M839.3,479.6 l0.3,11 c0.2,4.5 -6,4.8 -6.3,0.3 l1.8,-3 M853.0,456.5 Q858.0,468.6 856.0,479.1 M856.0,482.3 l0.3,11 c0.2,4.5 -6,4.8 -6.3,0.3 l1.8,-3 M867.7,452.5 Q872.7,461.6 870.7,469.1 M870.7,472.3 l0.3,11 c0.2,4.5 -6,4.8 -6.3,0.3 l1.8,-3 M879.3,449.4 Q891.3,458.0 889.3,465.1 M889.3,468.3 l0.3,11 c0.2,4.5 -6,4.8 -6.3,0.3 l1.8,-3 M895.0,445.1 Q907.0,450.3 905.0,453.9 M906.0,456.7 c3,4 6,5 8,7 c2,2 1,5 -2,4.5 l-2,-2" fill="none" stroke="#e2dad1" stroke-width="1.15"/></g>
<g stroke="#7b8686"><circle cx="792.7" cy="486.7" r="1.7" fill="none" stroke-width="1"/><circle cx="808.0" cy="490.0" r="1.7" fill="none" stroke-width="1"/><circle cx="822.7" cy="482.0" r="1.7" fill="none" stroke-width="1"/><circle cx="839.3" cy="478.0" r="1.7" fill="none" stroke-width="1"/><circle cx="856.0" cy="480.7" r="1.7" fill="none" stroke-width="1"/><circle cx="870.7" cy="470.7" r="1.7" fill="none" stroke-width="1"/><circle cx="889.3" cy="466.7" r="1.7" fill="none" stroke-width="1"/><circle cx="905.0" cy="455.5" r="1.7" fill="none" stroke-width="1"/></g><g stroke="#e2dad1" clip-path="url(#landclip)"><circle cx="792.7" cy="486.7" r="1.7" fill="none" stroke-width="1"/><circle cx="808.0" cy="490.0" r="1.7" fill="none" stroke-width="1"/><circle cx="822.7" cy="482.0" r="1.7" fill="none" stroke-width="1"/><circle cx="839.3" cy="478.0" r="1.7" fill="none" stroke-width="1"/><circle cx="856.0" cy="480.7" r="1.7" fill="none" stroke-width="1"/><circle cx="870.7" cy="470.7" r="1.7" fill="none" stroke-width="1"/><circle cx="889.3" cy="466.7" r="1.7" fill="none" stroke-width="1"/><circle cx="905.0" cy="455.5" r="1.7" fill="none" stroke-width="1"/></g>
<circle cx="905.5" cy="442.3" r="4.2" fill="#6e6e6e"/><circle cx="783.3" cy="475.3" r="4.6" fill="#d3cfcb"/>
<path d="M1019,224 L932.5,738 M1025,224 L964,782" fill="none" stroke="url(#warp)" stroke-width="1.2"/>
<path d="M706,846 L712,822 Q725.6,809.5 739.2,813.0 Q752.8,800.5 766.3,804.0 Q779.9,791.5 793.5,795.0 Q807.1,782.5 820.7,786.0 Q834.2,773.5 847.8,777.0 Q861.4,764.5 875.0,768.0 L885,786 L760,815 Z" fill="#85786c" opacity="0.95"/>
<path d="M716,836 Q727.7,828.4 739.4,828.9 Q751.1,821.3 762.9,821.7 Q774.6,814.1 786.3,814.6 Q798.0,807.0 809.7,807.4 Q821.4,799.9 833.1,800.3 Q844.9,792.7 856.6,793.1 Q868.3,785.6 880.0,786.0 L890,790 L730,842 Z" fill="#9c9085" opacity="0.9"/>
<path d="M708,880 Q722.2,883.8 736.3,873.7 Q750.5,877.5 764.7,867.3 Q778.8,871.2 793.0,861.0 Q807.2,864.8 821.3,854.7 Q835.5,858.5 849.7,848.3 Q863.8,852.2 878.0,842.0 L880,830 L730,852 Z" fill="#82756a" opacity="0.95"/>
<path d="M712,862 Q725.2,863.0 738.3,856.0 Q751.5,857.0 764.7,850.0 Q777.8,851.0 791.0,844.0 Q804.2,845.0 817.3,838.0 Q830.5,839.0 843.7,832.0 Q856.8,833.0 870.0,826.0 L875,828 L720,853 Z" fill="#a39a90" opacity="0.85"/>
<path d="M706.9,848.4 C709.1,847.2 714.8,844.1 720.0,841.0 C725.2,837.9 729.9,834.3 738.3,830.0 C746.7,825.7 760.3,819.9 770.6,815.4 C780.9,810.9 792.0,806.2 800.0,803.0 C808.0,799.8 811.4,798.3 818.9,796.0 C826.4,793.7 837.0,790.7 845.0,789.0 C853.0,787.3 858.4,786.3 867.2,785.6 C876.0,784.9 892.7,784.9 897.8,784.8" fill="none" stroke="#ebe5df" stroke-width="1.1"/><path d="M706.9,849.5 C710.8,849.6 723.1,850.2 730.3,850.0 C737.5,849.8 743.3,849.3 750.0,848.5 C756.7,847.7 762.3,846.0 770.6,845.2 C778.9,844.4 792.0,843.9 800.0,843.5 C808.0,843.1 811.4,843.6 818.9,842.8 C826.4,842.0 837.0,840.1 845.0,838.5 C853.0,836.9 858.9,835.2 867.2,833.1 C875.5,831.0 887.0,827.9 895.0,826.0 C903.0,824.1 912.1,822.5 915.5,821.8" fill="none" stroke="#ebe5df" stroke-width="1.1"/><path d="M718.1,842.1 Q714.9,845.9 718.1,849.7 M727.2,836.7 Q721.6,843.3 727.2,849.9 M735.5,831.7 Q728.0,840.6 735.5,849.6 M743.4,827.7 Q734.5,838.3 743.4,849.0 M751.0,824.2 Q740.9,836.3 751.0,848.3 M758.4,820.9 Q747.4,834.0 758.4,847.1 M765.7,817.6 Q753.7,831.8 765.7,846.0 M772.7,814.5 Q759.9,829.8 772.7,845.1 M779.6,811.6 Q765.7,828.1 779.6,844.7 M786.5,808.7 Q771.5,826.5 786.5,844.3 M793.2,805.9 Q777.2,824.9 793.2,843.9 M799.8,803.1 Q782.8,823.3 799.8,843.5 M806.3,800.7 Q788.4,822.0 806.3,843.3 M812.8,798.3 Q794.0,820.6 812.8,843.0 M819.2,795.9 Q799.5,819.3 819.2,842.7 M825.5,794.2 Q805.6,818.0 825.5,841.7 M831.8,792.5 Q811.6,816.6 831.8,840.7 M838.0,790.9 Q817.5,815.3 838.0,839.6 M844.2,789.2 Q823.4,813.9 844.2,838.6 M850.3,788.2 Q829.7,812.7 850.3,837.2 M856.4,787.3 Q836.0,811.5 856.4,835.7 M862.4,786.3 Q842.3,810.3 862.4,834.3 M868.4,785.6 Q848.6,809.2 868.4,832.8 M874.4,785.4 Q855.1,808.3 874.4,831.3 M880.3,785.3 Q861.6,807.5 880.3,829.8 M886.1,785.1 Q868.0,806.7 886.1,828.3 M892.0,785.0 Q874.4,805.9 892.0,826.8 M897.8,784.8 Q880.7,805.1 897.8,825.4" fill="none" stroke="#ebe5df" stroke-width="0.8"/><path d="M706.9,848.7 C708.6,847.9 713.9,845.4 716.9,844.0 C720.0,842.5 722.4,841.3 725.1,840.0 C727.7,838.7 730.2,837.3 732.7,836.2 C735.2,835.0 737.6,834.0 740.1,833.0 C742.5,832.0 744.9,831.2 747.2,830.3 C749.6,829.3 752.0,828.4 754.3,827.5 C756.6,826.5 758.9,825.6 761.2,824.7 C763.5,823.8 765.7,823.0 767.9,822.1 C770.1,821.3 772.3,820.6 774.4,819.9 C776.6,819.1 778.7,818.3 780.9,817.6 C783.0,816.9 785.1,816.1 787.2,815.4 C789.3,814.6 791.4,813.9 793.4,813.2 C795.5,812.5 797.6,811.9 799.6,811.3 C801.7,810.7 803.7,810.1 805.8,809.4 C807.8,808.8 809.8,808.2 811.8,807.6 C813.9,807.1 816.0,806.6 818.1,806.1 C820.1,805.6 822.2,805.1 824.2,804.6 C826.3,804.1 828.3,803.6 830.3,803.1 C832.4,802.6 834.4,802.0 836.4,801.6 C838.5,801.1 840.5,800.8 842.6,800.4 C844.7,800.1 846.7,799.7 848.8,799.4 C850.8,799.0 852.8,798.6 854.9,798.3 C856.9,798.0 858.9,797.6 861.0,797.4 C863.0,797.1 865.1,797.0 867.1,796.9 C869.2,796.7 871.2,796.5 873.3,796.4 C875.3,796.2 877.3,796.1 879.3,795.9 C881.4,795.7 883.4,795.6 885.4,795.4 C887.4,795.2 890.4,795.0 891.4,795.0" fill="none" stroke="#ebe5df" stroke-width="0.8"/><path d="M706.9,849.0 C708.5,848.4 713.6,846.8 716.5,845.9 C719.4,845.0 721.8,844.2 724.4,843.3 C726.9,842.4 729.3,841.5 731.7,840.6 C734.2,839.8 736.6,839.1 738.9,838.3 C741.3,837.6 743.7,837.0 746.0,836.3 C748.3,835.6 750.6,834.8 752.9,834.0 C755.2,833.3 757.5,832.5 759.7,831.8 C761.9,831.1 764.1,830.4 766.3,829.8 C768.5,829.2 770.6,828.7 772.7,828.1 C774.8,827.6 776.9,827.0 779.0,826.5 C781.1,826.0 783.1,825.4 785.2,824.9 C787.2,824.4 789.3,823.8 791.3,823.3 C793.3,822.8 795.4,822.4 797.4,822.0 C799.4,821.5 801.4,821.1 803.4,820.6 C805.4,820.2 807.3,819.8 809.4,819.3 C811.4,818.9 813.5,818.4 815.6,818.0 C817.6,817.5 819.7,817.1 821.7,816.6 C823.7,816.2 825.8,815.7 827.8,815.3 C829.8,814.8 831.8,814.4 833.8,813.9 C835.9,813.5 838.0,813.1 840.0,812.7 C842.1,812.3 844.2,811.9 846.2,811.5 C848.3,811.1 850.3,810.7 852.4,810.3 C854.4,809.9 856.4,809.5 858.5,809.2 C860.6,808.9 862.7,808.6 864.7,808.3 C866.8,808.1 868.9,807.8 870.9,807.5 C873.0,807.2 875.0,807.0 877.1,806.7 C879.1,806.4 881.2,806.1 883.2,805.9 C885.2,805.6 888.3,805.2 889.3,805.1" fill="none" stroke="#ebe5df" stroke-width="0.8"/><path d="M706.9,849.2 C708.6,849.0 713.9,848.3 716.9,847.8 C720.0,847.4 722.4,847.1 725.1,846.6 C727.7,846.2 730.2,845.6 732.7,845.1 C735.2,844.6 737.6,844.1 740.1,843.7 C742.5,843.2 744.9,842.8 747.2,842.3 C749.6,841.8 752.0,841.2 754.3,840.6 C756.6,840.0 758.9,839.4 761.2,838.9 C763.5,838.4 765.7,837.9 767.9,837.4 C770.1,837.0 772.3,836.7 774.4,836.4 C776.6,836.1 778.7,835.7 780.9,835.4 C783.0,835.1 785.1,834.7 787.2,834.4 C789.3,834.1 791.4,833.7 793.4,833.4 C795.5,833.1 797.6,832.9 799.6,832.6 C801.7,832.3 803.7,832.1 805.8,831.8 C807.8,831.6 809.8,831.4 811.8,831.0 C813.9,830.7 816.0,830.2 818.1,829.8 C820.1,829.4 822.2,829.0 824.2,828.6 C826.3,828.2 828.3,827.8 830.3,827.5 C832.4,827.1 834.4,826.7 836.4,826.3 C838.5,825.9 840.5,825.4 842.6,825.0 C844.7,824.5 846.7,824.1 848.8,823.6 C850.8,823.2 852.8,822.7 854.9,822.3 C856.9,821.8 858.9,821.4 861.0,821.0 C863.0,820.6 865.1,820.2 867.1,819.8 C869.2,819.4 871.2,819.0 873.3,818.6 C875.3,818.2 877.3,817.9 879.3,817.5 C881.4,817.1 883.4,816.7 885.4,816.3 C887.4,815.9 890.4,815.4 891.4,815.3" fill="none" stroke="#ebe5df" stroke-width="0.8"/>
<path d="M897.8,784.8 C884,790 876,800 877,810 C878,818 886,823 896,825 L915.5,821.8" fill="none" stroke="#ebe5df" stroke-width="1.2"/>
<path d="M893,787 C882,794 880,803 882,811 C884,818 890,822 900,823 M888,790 C878,798 876,806 880,814" fill="none" stroke="#ebe5df" stroke-width="0.8"/>
<circle cx="891.0" cy="788.0" r="1.7" fill="none" stroke="#ebe5df" stroke-width="0.9"/>
<circle cx="883.0" cy="794.0" r="1.7" fill="none" stroke="#ebe5df" stroke-width="0.9"/>
<circle cx="880.5" cy="801.0" r="1.7" fill="none" stroke="#ebe5df" stroke-width="0.9"/>
<circle cx="880.5" cy="808.5" r="1.7" fill="none" stroke="#ebe5df" stroke-width="0.9"/>
<circle cx="883.0" cy="815.0" r="1.7" fill="none" stroke="#ebe5df" stroke-width="0.9"/>
<circle cx="889.0" cy="820.0" r="1.7" fill="none" stroke="#ebe5df" stroke-width="0.9"/>
<circle cx="897.8" cy="784.8" r="2.6" fill="#736457" stroke="#ebe5df" stroke-width="1"/><circle cx="915.5" cy="821.8" r="2.6" fill="#736457" stroke="#ebe5df" stroke-width="1"/>
<path d="M920.4,757.4 L899.5,783 M951.8,794.4 L918,820" stroke="#e6e0da" stroke-width="1"/>
<path d="M916.6,752 L929.5,740.3 L935.5,746.5 L922,759.7 Z M950.2,791.5 L962.5,780.5 L968,787.5 L955.5,797.5 Z" fill="#d4d4d4" stroke="#d4d4d4" stroke-width="1.5" stroke-linejoin="round"/>
<path d="M-2,361.8 L27.5,365" fill="none" stroke="#fdfbf7" stroke-width="2.3" stroke-linecap="round"/>
<path d="M164,366.7 L199.5,371.9" fill="none" stroke="#fdfbf7" stroke-width="2.3" stroke-linecap="round" marker-end="url(#ah)"/>
<path d="M236.7,373.3 L209.5,373" fill="none" stroke="#fdfbf7" stroke-width="2.3" stroke-linecap="round" marker-end="url(#ah)"/>
<path d="M426.7,377.4 L455.5,384.6" fill="none" stroke="#fdfbf7" stroke-width="2.3" stroke-linecap="round" marker-end="url(#ah)"/>
<path d="M496.9,390.4 L463.8,385.6" fill="none" stroke="#fdfbf7" stroke-width="2.3" stroke-linecap="round" marker-end="url(#ah)"/>
<path d="M643.6,391.8 C658,389.5 670,391 676,397 C680,401 683,407 684.4,412.8" fill="none" stroke="#fdfbf7" stroke-width="2.3" stroke-linecap="round" marker-end="url(#ah)"/>
<path d="M725.5,478.4 C723.1,476.0 715.5,468.9 711.4,464.2 C707.3,459.5 704.1,454.8 701.1,450.1 C698.1,445.4 695.5,439.9 693.4,436.0 C691.3,432.1 689.8,429.2 688.5,426.5 C687.2,423.8 685.9,420.9 685.4,419.8" fill="none" stroke="#fdfbf7" stroke-width="2.3" stroke-linecap="round" marker-end="url(#ah)"/>
<path d="M783.3,512.7 C808,522 831,540 851.5,570.5" fill="none" stroke="#fdfbf7" stroke-width="2.3" stroke-linecap="round" marker-end="url(#ah)"/>
<path d="M865.6,673.3 C859,645 855,612 853.4,580" fill="none" stroke="#fdfbf7" stroke-width="2.3" stroke-linecap="round" marker-end="url(#ah)"/>
<path d="M896.0,745.0 C898.7,748.4 906.7,758.5 912.1,765.3 C917.5,772.1 922.9,779.5 928.2,785.7 C933.6,792.0 938.9,797.8 944.2,802.8 C949.6,807.8 954.9,812.1 960.3,815.7 C965.7,819.3 971.9,822.3 976.4,824.2 C980.9,826.1 983.5,826.3 987.1,826.9 C990.7,827.5 994.2,827.0 997.8,827.6 C1001.4,828.2 1004.9,829.0 1008.5,830.6 C1012.1,832.2 1016.1,834.8 1019.2,837.1 C1022.3,839.4 1025.2,842.3 1027.3,844.6 C1029.4,846.9 1031.0,849.9 1031.8,851.0" fill="none" stroke="#fdfbf7" stroke-width="2.3" stroke-linecap="round" marker-end="url(#ah)"/>
<path d="M1095.9,1013.6 C1075,970 1050,915 1035.2,861" fill="none" stroke="#fdfbf7" stroke-width="2.3" stroke-linecap="round" marker-end="url(#ah)"/>
<path d="M1116.3,1057 C1135,1100 1175,1140 1210.6,1176.8" fill="none" stroke="#fdfbf7" stroke-width="2.3" stroke-linecap="round" marker-end="url(#ah)"/>
<path d="M1330.8,1258.3 C1290,1240 1245,1215 1213.2,1183.3" fill="none" stroke="#fdfbf7" stroke-width="2.3" stroke-linecap="round" marker-end="url(#ah)"/>
<path d="M1415.8,1301.7 C1440,1325 1462,1358 1478.5,1395" fill="none" stroke="#fdfbf7" stroke-width="2.3" stroke-linecap="round" marker-end="url(#ah)"/>
<text class="tl" x="145.8" y="84.8" textLength="52.2" lengthAdjust="spacingAndGlyphs">traps</text>
<text class="tl" x="342.8" y="84.7" textLength="139.7" lengthAdjust="spacingAndGlyphs">dredge fishing</text>
<text class="tl" x="560.0" y="65.6" textLength="166.6" lengthAdjust="spacingAndGlyphs">demersal seines,</text>
<text class="tl" x="590.0" y="102.2" textLength="105.4" lengthAdjust="spacingAndGlyphs">set gillnets</text>
<text class="tl" x="797.9" y="65.6" textLength="129.8" lengthAdjust="spacingAndGlyphs">set longlines,</text>
<text class="tl" x="842.3" y="102.2" textLength="42.0" lengthAdjust="spacingAndGlyphs">pots</text>
<text class="tl" x="997.6" y="84.7" textLength="152.9" lengthAdjust="spacingAndGlyphs">bottom trawling</text>
<text class="tl" x="1257.4" y="43.0" textLength="133.4" lengthAdjust="spacingAndGlyphs">squid jiggers,</text>
<text class="tl" x="1208.8" y="80.0" textLength="230.2" lengthAdjust="spacingAndGlyphs">drifnets, pelagic seines,</text>
<text class="tl" x="1250.4" y="115.8" textLength="147.8" lengthAdjust="spacingAndGlyphs">poles and lines</text>
<text class="tl" x="1510.2" y="66.4" textLength="168.1" lengthAdjust="spacingAndGlyphs">drifting longlines,</text>
<text class="tl" x="1517.2" y="102.6" textLength="153.7" lengthAdjust="spacingAndGlyphs">pelagic trawling</text>
<text class="wl" x="36.0" y="377.3" textLength="121.0" lengthAdjust="spacingAndGlyphs">euphotic</text>
<text class="wl" x="252.2" y="380.1" textLength="160.6" lengthAdjust="spacingAndGlyphs">mesophotic</text>
<text class="wl" x="503.9" y="401.2" textLength="133.5" lengthAdjust="spacingAndGlyphs">rariphotic</text>
<text class="wl" x="686.3" y="501.3" textLength="82.0" lengthAdjust="spacingAndGlyphs">upper</text>
<text class="wl" x="672.3" y="534.7" textLength="102.0" lengthAdjust="spacingAndGlyphs">bathyal</text>
<text class="wl" x="823.8" y="701.6" textLength="75.8" lengthAdjust="spacingAndGlyphs">lower</text>
<text class="wl" x="797.0" y="734.6" textLength="102.6" lengthAdjust="spacingAndGlyphs">bathyal</text>
<text class="wl" x="1051.5" y="1046.1" textLength="101.8" lengthAdjust="spacingAndGlyphs">abyssal</text>
<text class="wl" x="1337.3" y="1290.0" textLength="76.2" lengthAdjust="spacingAndGlyphs">hadal</text>
<text class="zl" x="1596.0" y="367.9" textLength="143.0" lengthAdjust="spacingAndGlyphs">epipelagic</text>
<text class="zl" x="1566.0" y="504.4" textLength="173.5" lengthAdjust="spacingAndGlyphs">mesopelagic</text>
<text class="zl" x="1561.4" y="726.8" textLength="178.2" lengthAdjust="spacingAndGlyphs">bathypelagic</text>
<text class="zl" x="1545.4" y="1077.5" textLength="193.7" lengthAdjust="spacingAndGlyphs">abyssopelagic</text>
<text class="zl" x="1570.0" y="1322.3" textLength="169.1" lengthAdjust="spacingAndGlyphs">hadopelagic</text>
<text class="dl" x="171.7" y="406.5" textLength="60.3" lengthAdjust="spacingAndGlyphs">-30 m</text>
<text class="dl" x="410.6" y="421.3" textLength="78.4" lengthAdjust="spacingAndGlyphs">- 150 m</text>
<text class="dl" x="598.1" y="441.8" textLength="79.3" lengthAdjust="spacingAndGlyphs">- 300 m</text>
<text class="dl" x="738.3" y="586.0" textLength="97.4" lengthAdjust="spacingAndGlyphs">- 1,500 m</text>
<text class="dl" x="921.1" y="866.5" textLength="97.8" lengthAdjust="spacingAndGlyphs">- 3,500 m</text>
<text class="dl" x="1107.1" y="1203.4" textLength="98.3" lengthAdjust="spacingAndGlyphs">- 6,000 m</text>
<text class="dl" x="1706.7" y="423.5" textLength="79.5" lengthAdjust="spacingAndGlyphs">- 300 m</text>
<text class="dl" x="1687.4" y="582.5" textLength="98.0" lengthAdjust="spacingAndGlyphs">- 1,500 m</text>
<text class="dl" x="1687.0" y="864.8" textLength="98.1" lengthAdjust="spacingAndGlyphs">- 3,500 m</text>
<text class="dl" x="1686.8" y="1207.1" textLength="98.4" lengthAdjust="spacingAndGlyphs">- 6,000 m</text>
</svg></body></html>
